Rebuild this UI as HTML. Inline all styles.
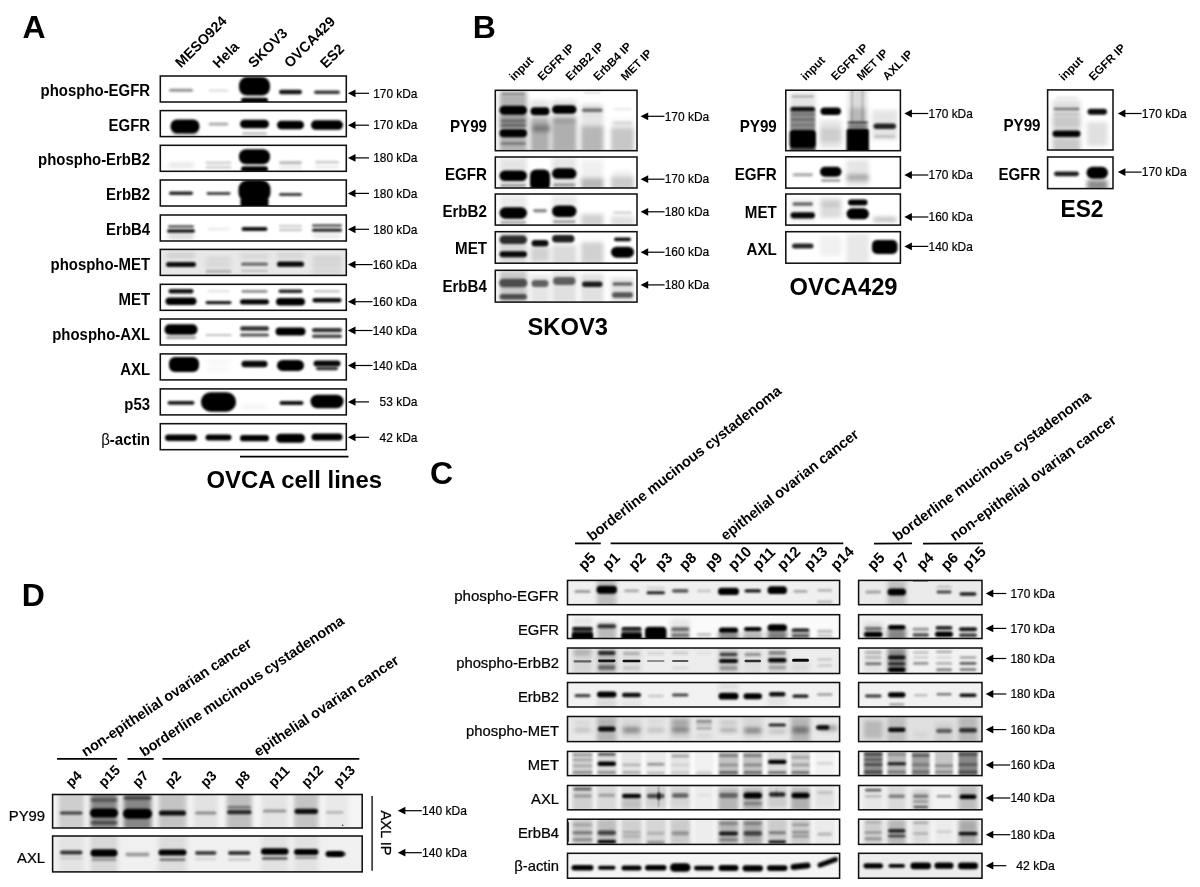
<!DOCTYPE html>
<html><head><meta charset="utf-8"><title>Figure</title>
<style>
html,body{margin:0;padding:0;background:#fff;}
body{width:1200px;height:887px;overflow:hidden;font-family:"Liberation Sans",sans-serif;}
svg{display:block;filter:grayscale(1);}
svg text{font-family:"Liberation Sans",sans-serif;}
</style></head><body>
<svg width="1200" height="887" viewBox="0 0 1200 887">
<defs>
<filter id="b0" x="-20%" y="-100%" width="140%" height="300%"><feGaussianBlur stdDeviation="0.6"/></filter>
<filter id="b1" x="-20%" y="-100%" width="140%" height="300%"><feGaussianBlur stdDeviation="1.25"/></filter>
<filter id="b2" x="-30%" y="-100%" width="160%" height="300%"><feGaussianBlur stdDeviation="2"/></filter>
<filter id="b3" x="-30%" y="-100%" width="160%" height="300%"><feGaussianBlur stdDeviation="3"/></filter>
<filter id="bx" x="-20%" y="-200%" width="140%" height="500%"><feGaussianBlur stdDeviation="1.6 0.7"/></filter>
<clipPath id="c1"><rect x="160.3" y="76" width="186" height="26"/></clipPath>
<clipPath id="c2"><rect x="160.3" y="110.6" width="186" height="26"/></clipPath>
<clipPath id="c3"><rect x="160.3" y="145.3" width="186" height="26"/></clipPath>
<clipPath id="c4"><rect x="160.3" y="180" width="186" height="26"/></clipPath>
<clipPath id="c5"><rect x="160.3" y="215" width="186" height="26"/></clipPath>
<clipPath id="c6"><rect x="160.3" y="249.4" width="186" height="26"/></clipPath>
<clipPath id="c7"><rect x="160.3" y="284.3" width="186" height="26"/></clipPath>
<clipPath id="c8"><rect x="160.3" y="319" width="186" height="26"/></clipPath>
<clipPath id="c9"><rect x="160.3" y="353.9" width="186" height="26"/></clipPath>
<clipPath id="c10"><rect x="160.3" y="388.9" width="186" height="26"/></clipPath>
<clipPath id="c11"><rect x="160.3" y="423.7" width="186" height="26"/></clipPath>
<clipPath id="c12"><rect x="495.3" y="90.3" width="141.7" height="60.4"/></clipPath>
<clipPath id="c13"><rect x="495.3" y="157" width="141.7" height="31"/></clipPath>
<clipPath id="c14"><rect x="495.3" y="194" width="141.7" height="31.1"/></clipPath>
<clipPath id="c15"><rect x="495.3" y="231.7" width="141.7" height="31.5"/></clipPath>
<clipPath id="c16"><rect x="495.3" y="270.3" width="141.7" height="31.8"/></clipPath>
<clipPath id="c17"><rect x="785.8" y="90.2" width="114.6" height="60.5"/></clipPath>
<clipPath id="c18"><rect x="785.8" y="156.8" width="114.6" height="31.3"/></clipPath>
<clipPath id="c19"><rect x="785.8" y="194" width="114.6" height="31.1"/></clipPath>
<clipPath id="c20"><rect x="785.8" y="231.7" width="114.6" height="31.5"/></clipPath>
<clipPath id="c21"><rect x="1047.6" y="89.9" width="65.4" height="60.1"/></clipPath>
<clipPath id="c22"><rect x="1047.6" y="157" width="65.4" height="31.6"/></clipPath>
<clipPath id="c23"><rect x="567.5" y="580.4" width="272.1" height="24.3"/></clipPath>
<clipPath id="c24"><rect x="567.5" y="614.7" width="272.1" height="23.8"/></clipPath>
<clipPath id="c25"><rect x="567.5" y="648" width="272.1" height="25.5"/></clipPath>
<clipPath id="c26"><rect x="567.5" y="682.5" width="272.1" height="24.5"/></clipPath>
<clipPath id="c27"><rect x="567.5" y="716.5" width="272.1" height="25.1"/></clipPath>
<clipPath id="c28"><rect x="567.5" y="751.4" width="272.1" height="24.2"/></clipPath>
<clipPath id="c29"><rect x="567.5" y="785.5" width="272.1" height="24.3"/></clipPath>
<clipPath id="c30"><rect x="567.5" y="819.2" width="272.1" height="25.2"/></clipPath>
<clipPath id="c31"><rect x="567.5" y="853.3" width="272.1" height="24.9"/></clipPath>
<clipPath id="c32"><rect x="858.6" y="580.4" width="123.4" height="24.3"/></clipPath>
<clipPath id="c33"><rect x="858.6" y="614.7" width="123.4" height="23.8"/></clipPath>
<clipPath id="c34"><rect x="858.6" y="648" width="123.4" height="25.5"/></clipPath>
<clipPath id="c35"><rect x="858.6" y="682.5" width="123.4" height="24.5"/></clipPath>
<clipPath id="c36"><rect x="858.6" y="716.5" width="123.4" height="25.1"/></clipPath>
<clipPath id="c37"><rect x="858.6" y="751.4" width="123.4" height="24.2"/></clipPath>
<clipPath id="c38"><rect x="858.6" y="785.5" width="123.4" height="24.3"/></clipPath>
<clipPath id="c39"><rect x="858.6" y="819.2" width="123.4" height="25.2"/></clipPath>
<clipPath id="c40"><rect x="858.6" y="853.3" width="123.4" height="24.9"/></clipPath>
<clipPath id="c41"><rect x="52.6" y="794.5" width="309.6" height="33.5"/></clipPath>
<clipPath id="c42"><rect x="52.6" y="836" width="309.6" height="35.9"/></clipPath>
</defs>
<rect x="0" y="0" width="1200" height="887" fill="#fff"/>
<text x="22.5" y="37.7" font-size="32" font-weight="bold">A</text>
<text x="181" y="68.5" font-size="14.3" font-weight="bold" transform="rotate(-45 181 68.5)">MESO924</text>
<text x="218.5" y="69" font-size="14.3" font-weight="bold" transform="rotate(-45 218.5 69)">Hela</text>
<text x="254" y="68.5" font-size="14.3" font-weight="bold" transform="rotate(-45 254 68.5)">SKOV3</text>
<text x="290" y="68.5" font-size="14.3" font-weight="bold" transform="rotate(-45 290 68.5)">OVCA429</text>
<text x="326" y="69" font-size="14.3" font-weight="bold" transform="rotate(-45 326 69)">ES2</text>
<rect x="160.3" y="76" width="186" height="26" fill="rgb(255,255,255)"/>
<g clip-path="url(#c1)">
<rect x="169" y="88.8" width="24" height="3" rx="1.5" fill="#000" fill-opacity="0.42" filter="url(#b1)"/>
<rect x="208.5" y="89" width="20" height="3" rx="1.5" fill="#000" fill-opacity="0.1" filter="url(#b1)"/>
<rect x="239" y="77.05" width="31" height="18.5" rx="8" fill="#000" fill-opacity="1" filter="url(#b1)"/>
<rect x="241" y="97.75" width="27" height="5.5" rx="2.75" fill="#000" fill-opacity="1" filter="url(#b1)"/>
<rect x="279" y="89.7" width="23" height="4.6" rx="2.3" fill="#000" fill-opacity="0.92" filter="url(#b1)"/>
<rect x="314" y="90.5" width="26" height="3.6" rx="1.8" fill="#000" fill-opacity="0.78" filter="url(#b1)"/>
</g>
<rect x="160.3" y="76" width="186" height="26" fill="none" stroke="#111" stroke-width="1.55"/>
<text x="150.1" y="95.8" font-size="15.8" font-weight="bold" text-anchor="end" textLength="109.48" lengthAdjust="spacingAndGlyphs">phospho-EGFR</text>
<path d="M347.9 93.3 L355.5 89.4 L355.5 97.2 Z" fill="#000"/>
<line x1="354.6" y1="93.3" x2="369" y2="93.3" stroke="#000" stroke-width="1.2"/>
<text x="373.2" y="97.5" font-size="13.1" stroke="#000" stroke-width="0.22" textLength="44.3" lengthAdjust="spacingAndGlyphs">170 kDa</text>
<rect x="160.3" y="110.6" width="186" height="26" fill="rgb(255,255,255)"/>
<g clip-path="url(#c2)">
<rect x="170.5" y="119.4" width="29" height="14" rx="6.5" fill="#000" fill-opacity="1" filter="url(#b1)"/>
<rect x="172" y="132.1" width="26" height="4" rx="2" fill="#000" fill-opacity="0.25" filter="url(#b2)"/>
<rect x="208.5" y="122.4" width="20" height="3.4" rx="1.7" fill="#000" fill-opacity="0.3" filter="url(#b1)"/>
<rect x="240" y="119.85" width="29" height="8.5" rx="4.25" fill="#000" fill-opacity="1" filter="url(#b1)"/>
<rect x="242" y="132.1" width="25" height="3" rx="1.5" fill="#000" fill-opacity="0.22" filter="url(#b1)"/>
<rect x="277" y="120.85" width="27" height="8.5" rx="4.25" fill="#000" fill-opacity="1" filter="url(#b1)"/>
<rect x="311" y="120.35" width="32" height="9.5" rx="4.75" fill="#000" fill-opacity="1" filter="url(#b1)"/>
</g>
<rect x="160.3" y="110.6" width="186" height="26" fill="none" stroke="#111" stroke-width="1.55"/>
<text x="150.1" y="130.57" font-size="15.8" font-weight="bold" text-anchor="end" textLength="41.48" lengthAdjust="spacingAndGlyphs">EGFR</text>
<path d="M347.9 125.2 L355.5 121.3 L355.5 129.1 Z" fill="#000"/>
<line x1="354.6" y1="125.2" x2="369" y2="125.2" stroke="#000" stroke-width="1.2"/>
<text x="373.2" y="129.4" font-size="13.1" stroke="#000" stroke-width="0.22" textLength="44.3" lengthAdjust="spacingAndGlyphs">170 kDa</text>
<rect x="160.3" y="145.3" width="186" height="26" fill="rgb(255,255,255)"/>
<g clip-path="url(#c3)">
<rect x="168" y="162.8" width="26" height="5" rx="2.5" fill="#000" fill-opacity="0.1" filter="url(#b2)"/>
<rect x="205.5" y="161.3" width="26" height="3" rx="1.5" fill="#000" fill-opacity="0.16" filter="url(#b1)"/>
<rect x="205.5" y="165.8" width="26" height="3" rx="1.5" fill="#000" fill-opacity="0.16" filter="url(#b1)"/>
<rect x="239" y="149.3" width="31" height="15" rx="7" fill="#000" fill-opacity="1" filter="url(#b1)"/>
<rect x="241" y="166.3" width="27" height="6" rx="3" fill="#000" fill-opacity="1" filter="url(#b1)"/>
<rect x="279" y="161.1" width="23" height="3.4" rx="1.7" fill="#000" fill-opacity="0.25" filter="url(#b1)"/>
<rect x="279" y="166.3" width="23" height="3" rx="1.5" fill="#000" fill-opacity="0.08" filter="url(#b1)"/>
<rect x="315" y="160.8" width="24" height="3" rx="1.5" fill="#000" fill-opacity="0.18" filter="url(#b1)"/>
<rect x="315" y="165.8" width="24" height="3" rx="1.5" fill="#000" fill-opacity="0.07" filter="url(#b1)"/>
</g>
<rect x="160.3" y="145.3" width="186" height="26" fill="none" stroke="#111" stroke-width="1.55"/>
<text x="150.1" y="165.44" font-size="15.8" font-weight="bold" text-anchor="end" textLength="111.98" lengthAdjust="spacingAndGlyphs">phospho-ErbB2</text>
<path d="M347.9 157.9 L355.5 154 L355.5 161.8 Z" fill="#000"/>
<line x1="354.6" y1="157.9" x2="369" y2="157.9" stroke="#000" stroke-width="1.2"/>
<text x="373.2" y="162.1" font-size="13.1" stroke="#000" stroke-width="0.22" textLength="44.3" lengthAdjust="spacingAndGlyphs">180 kDa</text>
<rect x="160.3" y="180" width="186" height="26" fill="rgb(255,255,255)"/>
<g clip-path="url(#c4)">
<rect x="169" y="191.6" width="24" height="3.4" rx="1.7" fill="#000" fill-opacity="0.85" filter="url(#b1)"/>
<rect x="206.5" y="192.1" width="24" height="2.8" rx="1.4" fill="#000" fill-opacity="0.72" filter="url(#b1)"/>
<rect x="238.5" y="180" width="32" height="22" rx="9" fill="#000" fill-opacity="1" filter="url(#b1)"/>
<rect x="240.5" y="198" width="28" height="10" rx="3" fill="#000" fill-opacity="1" filter="url(#b1)"/>
<rect x="279" y="193" width="23" height="3" rx="1.5" fill="#000" fill-opacity="0.75" filter="url(#b1)"/>
</g>
<rect x="160.3" y="180" width="186" height="26" fill="none" stroke="#111" stroke-width="1.55"/>
<text x="150.1" y="200.31" font-size="15.8" font-weight="bold" text-anchor="end" textLength="43.98" lengthAdjust="spacingAndGlyphs">ErbB2</text>
<path d="M347.9 193.4 L355.5 189.5 L355.5 197.3 Z" fill="#000"/>
<line x1="354.6" y1="193.4" x2="369" y2="193.4" stroke="#000" stroke-width="1.2"/>
<text x="373.2" y="197.6" font-size="13.1" stroke="#000" stroke-width="0.22" textLength="44.3" lengthAdjust="spacingAndGlyphs">180 kDa</text>
<rect x="160.3" y="215" width="186" height="26" fill="rgb(255,255,255)"/>
<g clip-path="url(#c5)">
<rect x="168" y="225.2" width="26" height="2.6" rx="1.3" fill="#000" fill-opacity="0.68" filter="url(#b1)"/>
<rect x="167" y="229.3" width="28" height="3.4" rx="1.7" fill="#000" fill-opacity="0.92" filter="url(#b1)"/>
<rect x="168" y="234.75" width="26" height="3.5" rx="1.75" fill="#000" fill-opacity="0.22" filter="url(#b2)"/>
<rect x="207.5" y="227.5" width="22" height="3" rx="1.5" fill="#000" fill-opacity="0.07" filter="url(#b1)"/>
<rect x="241.5" y="226.9" width="26" height="4.2" rx="2.1" fill="#000" fill-opacity="0.92" filter="url(#b1)"/>
<rect x="279" y="224.7" width="23" height="2.6" rx="1.3" fill="#000" fill-opacity="0.18" filter="url(#b1)"/>
<rect x="279" y="228.7" width="23" height="2.6" rx="1.3" fill="#000" fill-opacity="0.22" filter="url(#b1)"/>
<rect x="312" y="224.2" width="30" height="2.6" rx="1.3" fill="#000" fill-opacity="0.68" filter="url(#b1)"/>
<rect x="312" y="228.6" width="30" height="3.2" rx="1.6" fill="#000" fill-opacity="0.85" filter="url(#b1)"/>
<rect x="313" y="234.25" width="28" height="3.5" rx="1.75" fill="#000" fill-opacity="0.12" filter="url(#b2)"/>
</g>
<rect x="160.3" y="215" width="186" height="26" fill="none" stroke="#111" stroke-width="1.55"/>
<text x="150.1" y="235.48" font-size="15.8" font-weight="bold" text-anchor="end" textLength="43.98" lengthAdjust="spacingAndGlyphs">ErbB4</text>
<path d="M347.9 229.3 L355.5 225.4 L355.5 233.2 Z" fill="#000"/>
<line x1="354.6" y1="229.3" x2="369" y2="229.3" stroke="#000" stroke-width="1.2"/>
<text x="373.2" y="233.5" font-size="13.1" stroke="#000" stroke-width="0.22" textLength="44.3" lengthAdjust="spacingAndGlyphs">180 kDa</text>
<rect x="160.3" y="249.4" width="186" height="26" fill="rgb(232,232,232)"/>
<g clip-path="url(#c6)">
<rect x="166" y="262.1" width="30" height="5" rx="2.5" fill="#000" fill-opacity="0.95" filter="url(#b1)"/>
<rect x="167" y="252.9" width="28" height="5" rx="2.5" fill="#000" fill-opacity="0.12" filter="url(#b2)"/>
<rect x="205.5" y="257.4" width="26" height="3" rx="1.5" fill="#000" fill-opacity="0.12" filter="url(#b2)"/>
<rect x="205.5" y="263.4" width="26" height="3" rx="1.5" fill="#000" fill-opacity="0.12" filter="url(#b2)"/>
<rect x="205.5" y="269.7" width="26" height="3.4" rx="1.7" fill="#000" fill-opacity="0.22" filter="url(#b1)"/>
<rect x="241" y="262.6" width="27" height="3.2" rx="1.6" fill="#000" fill-opacity="0.55" filter="url(#b1)"/>
<rect x="241" y="269.7" width="27" height="2.4" rx="1.2" fill="#000" fill-opacity="0.18" filter="url(#b1)"/>
<rect x="240" y="254.4" width="29" height="4" rx="2" fill="#000" fill-opacity="0.1" filter="url(#b2)"/>
<rect x="277" y="261.6" width="27" height="5.2" rx="2.6" fill="#000" fill-opacity="0.97" filter="url(#b1)"/>
<rect x="277" y="252.9" width="27" height="5" rx="2.5" fill="#000" fill-opacity="0.1" filter="url(#b2)"/>
<rect x="312" y="256.4" width="30" height="4" rx="2" fill="#000" fill-opacity="0.14" filter="url(#b2)"/>
<rect x="312" y="263.4" width="30" height="3" rx="1.5" fill="#000" fill-opacity="0.16" filter="url(#b2)"/>
<rect x="312" y="269.9" width="30" height="3" rx="1.5" fill="#000" fill-opacity="0.14" filter="url(#b2)"/>
</g>
<rect x="160.3" y="249.4" width="186" height="26" fill="none" stroke="#111" stroke-width="1.55"/>
<text x="150.1" y="270.05" font-size="15.8" font-weight="bold" text-anchor="end" textLength="99.52" lengthAdjust="spacingAndGlyphs">phospho-MET</text>
<path d="M347.9 264.6 L355.5 260.7 L355.5 268.5 Z" fill="#000"/>
<line x1="354.6" y1="264.6" x2="372.5" y2="264.6" stroke="#000" stroke-width="1.2"/>
<text x="372.7" y="268.8" font-size="13.1" stroke="#000" stroke-width="0.22" textLength="44.3" lengthAdjust="spacingAndGlyphs">160 kDa</text>
<rect x="160.3" y="284.3" width="186" height="26" fill="rgb(255,255,255)"/>
<g clip-path="url(#c7)">
<rect x="168.5" y="289.1" width="25" height="4.4" rx="2.2" fill="#000" fill-opacity="0.92" filter="url(#b1)"/>
<rect x="165.5" y="297.55" width="31" height="7.5" rx="3.75" fill="#000" fill-opacity="1" filter="url(#b1)"/>
<rect x="207.5" y="290.05" width="22" height="2.5" rx="1.25" fill="#000" fill-opacity="0.1" filter="url(#b1)"/>
<rect x="205.5" y="301" width="26" height="3.2" rx="1.6" fill="#000" fill-opacity="0.9" filter="url(#b1)"/>
<rect x="241.5" y="289.9" width="26" height="2.8" rx="1.4" fill="#000" fill-opacity="0.45" filter="url(#b1)"/>
<rect x="240" y="299.2" width="29" height="5.2" rx="2.6" fill="#000" fill-opacity="0.98" filter="url(#b1)"/>
<rect x="278.5" y="289.6" width="24" height="3.4" rx="1.7" fill="#000" fill-opacity="0.85" filter="url(#b1)"/>
<rect x="276" y="298.05" width="29" height="7.5" rx="3.75" fill="#000" fill-opacity="1" filter="url(#b1)"/>
<rect x="314" y="290.1" width="26" height="2.4" rx="1.2" fill="#000" fill-opacity="0.22" filter="url(#b1)"/>
<rect x="312.5" y="298.1" width="29" height="4.4" rx="2.2" fill="#000" fill-opacity="0.95" filter="url(#b1)"/>
</g>
<rect x="160.3" y="284.3" width="186" height="26" fill="none" stroke="#111" stroke-width="1.55"/>
<text x="150.1" y="305.12" font-size="15.8" font-weight="bold" text-anchor="end" textLength="31.52" lengthAdjust="spacingAndGlyphs">MET</text>
<path d="M347.9 301.7 L355.5 297.8 L355.5 305.6 Z" fill="#000"/>
<line x1="354.6" y1="301.7" x2="372.5" y2="301.7" stroke="#000" stroke-width="1.2"/>
<text x="372.7" y="305.9" font-size="13.1" stroke="#000" stroke-width="0.22" textLength="44.3" lengthAdjust="spacingAndGlyphs">160 kDa</text>
<rect x="160.3" y="319" width="186" height="26" fill="rgb(255,255,255)"/>
<g clip-path="url(#c8)">
<rect x="164.5" y="324.25" width="33" height="10.5" rx="5" fill="#000" fill-opacity="1" filter="url(#b1)"/>
<rect x="166" y="336" width="30" height="3" rx="1.5" fill="#000" fill-opacity="0.35" filter="url(#b1)"/>
<rect x="205.5" y="334.3" width="26" height="1.8" rx="0.9" fill="#000" fill-opacity="0.28" filter="url(#b1)"/>
<rect x="240" y="326.25" width="29" height="4.5" rx="2.25" fill="#000" fill-opacity="0.8" filter="url(#b1)"/>
<rect x="240" y="333.5" width="29" height="3" rx="1.5" fill="#000" fill-opacity="0.68" filter="url(#b1)"/>
<rect x="275.5" y="327.5" width="30" height="8" rx="4" fill="#000" fill-opacity="1" filter="url(#b1)"/>
<rect x="312" y="328.1" width="30" height="4.2" rx="2.1" fill="#000" fill-opacity="0.8" filter="url(#b1)"/>
<rect x="312" y="334.5" width="30" height="3.4" rx="1.7" fill="#000" fill-opacity="0.72" filter="url(#b1)"/>
</g>
<rect x="160.3" y="319" width="186" height="26" fill="none" stroke="#111" stroke-width="1.55"/>
<text x="150.1" y="339.99" font-size="15.8" font-weight="bold" text-anchor="end" textLength="97.86" lengthAdjust="spacingAndGlyphs">phospho-AXL</text>
<path d="M347.9 330.5 L355.5 326.6 L355.5 334.4 Z" fill="#000"/>
<line x1="354.6" y1="330.5" x2="372.5" y2="330.5" stroke="#000" stroke-width="1.2"/>
<text x="372.7" y="334.7" font-size="13.1" stroke="#000" stroke-width="0.22" textLength="44.3" lengthAdjust="spacingAndGlyphs">140 kDa</text>
<rect x="160.3" y="353.9" width="186" height="26" fill="rgb(255,255,255)"/>
<g clip-path="url(#c9)">
<rect x="169" y="356.9" width="30" height="15" rx="6" fill="#000" fill-opacity="1" filter="url(#b1)"/>
<rect x="207.5" y="360.4" width="22" height="3" rx="1.5" fill="#000" fill-opacity="0.06" filter="url(#b2)"/>
<rect x="207.5" y="367.4" width="22" height="3" rx="1.5" fill="#000" fill-opacity="0.05" filter="url(#b2)"/>
<rect x="241.5" y="360.65" width="26" height="6.5" rx="3.2" fill="#000" fill-opacity="0.97" filter="url(#b1)"/>
<rect x="277" y="359.9" width="27" height="11" rx="5.5" fill="#000" fill-opacity="1" filter="url(#b1)"/>
<rect x="313.5" y="360.4" width="27" height="6" rx="3" fill="#000" fill-opacity="0.97" filter="url(#b1)"/>
<rect x="316" y="366.65" width="22" height="3.5" rx="1.75" fill="#000" fill-opacity="0.8" filter="url(#b1)"/>
</g>
<rect x="160.3" y="353.9" width="186" height="26" fill="none" stroke="#111" stroke-width="1.55"/>
<text x="150.1" y="375.06" font-size="15.8" font-weight="bold" text-anchor="end" textLength="29.86" lengthAdjust="spacingAndGlyphs">AXL</text>
<path d="M347.9 365.5 L355.5 361.6 L355.5 369.4 Z" fill="#000"/>
<line x1="354.6" y1="365.5" x2="372.5" y2="365.5" stroke="#000" stroke-width="1.2"/>
<text x="372.7" y="369.7" font-size="13.1" stroke="#000" stroke-width="0.22" textLength="44.3" lengthAdjust="spacingAndGlyphs">140 kDa</text>
<rect x="160.3" y="388.9" width="186" height="26" fill="rgb(255,255,255)"/>
<g clip-path="url(#c10)">
<rect x="167.5" y="401.1" width="27" height="3.6" rx="1.8" fill="#000" fill-opacity="0.9" filter="url(#b1)"/>
<rect x="201" y="392.15" width="35" height="19.5" rx="9.5" fill="#000" fill-opacity="1" filter="url(#b1)"/>
<rect x="242" y="404.9" width="25" height="4" rx="2" fill="#000" fill-opacity="0.05" filter="url(#b2)"/>
<rect x="279.5" y="401.1" width="24" height="4" rx="2" fill="#000" fill-opacity="0.92" filter="url(#b1)"/>
<rect x="310.5" y="394.65" width="33" height="13.5" rx="6.7" fill="#000" fill-opacity="1" filter="url(#b1)"/>
</g>
<rect x="160.3" y="388.9" width="186" height="26" fill="none" stroke="#111" stroke-width="1.55"/>
<text x="150.1" y="410.23" font-size="15.8" font-weight="bold" text-anchor="end" textLength="25.73" lengthAdjust="spacingAndGlyphs">p53</text>
<path d="M347.9 401.9 L355.5 398 L355.5 405.8 Z" fill="#000"/>
<line x1="354.6" y1="401.9" x2="369" y2="401.9" stroke="#000" stroke-width="1.2"/>
<text x="379.6" y="406.1" font-size="13.1" stroke="#000" stroke-width="0.22" textLength="37.8" lengthAdjust="spacingAndGlyphs">53 kDa</text>
<rect x="160.3" y="423.7" width="186" height="26" fill="rgb(255,255,255)"/>
<g clip-path="url(#c11)">
<rect x="165" y="434.45" width="32" height="6.5" rx="3.25" fill="#000" fill-opacity="1" filter="url(#b1)"/>
<rect x="205.5" y="434.5" width="26" height="6" rx="3" fill="#000" fill-opacity="1" filter="url(#b1)"/>
<rect x="240" y="435.1" width="29" height="6.2" rx="3.1" fill="#000" fill-opacity="1" filter="url(#b1)"/>
<rect x="276" y="433.7" width="29" height="9" rx="4.5" fill="#000" fill-opacity="1" filter="url(#b1)"/>
<rect x="311.5" y="433.5" width="31" height="7" rx="3.5" fill="#000" fill-opacity="1" filter="url(#b1)"/>
</g>
<rect x="160.3" y="423.7" width="186" height="26" fill="none" stroke="#111" stroke-width="1.55"/>
<text x="150.1" y="445.2" font-size="15.8" font-weight="bold" text-anchor="end" textLength="48.94" lengthAdjust="spacingAndGlyphs"><tspan font-weight="normal">&#946;</tspan>-actin</text>
<path d="M347.9 437.3 L355.5 433.4 L355.5 441.2 Z" fill="#000"/>
<line x1="354.6" y1="437.3" x2="369" y2="437.3" stroke="#000" stroke-width="1.2"/>
<text x="379.6" y="441.5" font-size="13.1" stroke="#000" stroke-width="0.22" textLength="37.8" lengthAdjust="spacingAndGlyphs">42 kDa</text>
<line x1="240" y1="456.6" x2="348.5" y2="456.6" stroke="#000" stroke-width="1.8"/>
<text x="206.5" y="487.8" font-size="23.5" font-weight="bold" textLength="175.5" lengthAdjust="spacingAndGlyphs">OVCA cell lines</text>
<text x="472.7" y="37.7" font-size="32" font-weight="bold">B</text>
<rect x="495.3" y="90.3" width="141.7" height="60.4" fill="rgb(255,255,255)"/>
<g clip-path="url(#c12)">
<rect x="499.5" y="92" width="27.5" height="60" fill="#000" fill-opacity="0.3" filter="url(#b2)"/>
<rect x="530.5" y="100" width="19" height="52" fill="#000" fill-opacity="0.1" filter="url(#b2)"/>
<rect x="552" y="100" width="24.5" height="52" fill="#000" fill-opacity="0.12" filter="url(#b2)"/>
<rect x="581" y="112" width="22.5" height="40" fill="#000" fill-opacity="0.1" filter="url(#b2)"/>
<rect x="611" y="120" width="23" height="32" fill="#000" fill-opacity="0.07" filter="url(#b2)"/>
<rect x="501.5" y="92.8" width="23.5" height="1.6" rx="0.8" fill="#000" fill-opacity="0.35" filter="url(#b1)"/>
<rect x="499.5" y="105.7" width="27.5" height="9" rx="4.5" fill="#000" fill-opacity="1" filter="url(#b1)"/>
<rect x="500.5" y="119.5" width="25.5" height="3" rx="1.5" fill="#000" fill-opacity="0.3" filter="url(#b1)"/>
<rect x="500.5" y="124" width="25.5" height="3" rx="1.5" fill="#000" fill-opacity="0.35" filter="url(#b1)"/>
<rect x="499.5" y="116" width="27.5" height="12" fill="#000" fill-opacity="0.15" filter="url(#b2)"/>
<rect x="499.5" y="129.2" width="27.5" height="8" rx="4" fill="#000" fill-opacity="1" filter="url(#b1)"/>
<rect x="500.5" y="142" width="25.5" height="3" rx="1.5" fill="#000" fill-opacity="0.3" filter="url(#b1)"/>
<rect x="530.5" y="107.3" width="19" height="8" rx="4" fill="#000" fill-opacity="1" filter="url(#b1)"/>
<rect x="530.5" y="118" width="19" height="34" fill="#000" fill-opacity="0.24" filter="url(#b2)"/>
<rect x="532" y="125" width="19" height="7" rx="3.5" fill="#000" fill-opacity="0.3" filter="url(#b2)"/>
<rect x="552" y="105.2" width="24.5" height="8.6" rx="4.3" fill="#000" fill-opacity="1" filter="url(#b1)"/>
<rect x="552" y="118" width="24.5" height="34" fill="#000" fill-opacity="0.22" filter="url(#b2)"/>
<rect x="553" y="119" width="22.5" height="3" rx="1.5" fill="#000" fill-opacity="0.2" filter="url(#b2)"/>
<rect x="584" y="92.2" width="16.5" height="1.2" rx="0.6" fill="#000" fill-opacity="0.18" filter="url(#b1)"/>
<rect x="582" y="108.6" width="20.5" height="3.4" rx="1.7" fill="#000" fill-opacity="0.5" filter="url(#b1)"/>
<rect x="581" y="126" width="22.5" height="26" fill="#000" fill-opacity="0.2" filter="url(#b2)"/>
<rect x="581" y="104.5" width="22.5" height="8" rx="4" fill="#000" fill-opacity="0.15" filter="url(#b2)"/>
<rect x="613" y="107.5" width="19" height="3" rx="1.5" fill="#000" fill-opacity="0.07" filter="url(#b1)"/>
<rect x="613" y="121.8" width="19" height="2.4" rx="1.2" fill="#000" fill-opacity="0.1" filter="url(#b1)"/>
<rect x="611" y="128" width="23" height="24" fill="#000" fill-opacity="0.16" filter="url(#b2)"/>
</g>
<rect x="495.3" y="90.3" width="141.7" height="60.4" fill="none" stroke="#111" stroke-width="1.55"/>
<text x="487" y="132" font-size="16.2" font-weight="bold" text-anchor="end" textLength="37.05" lengthAdjust="spacingAndGlyphs">PY99</text>
<path d="M640.6 116.3 L648.2 112.4 L648.2 120.2 Z" fill="#000"/>
<line x1="647.3" y1="116.3" x2="664.5" y2="116.3" stroke="#000" stroke-width="1.2"/>
<text x="664.7" y="120.5" font-size="13.1" stroke="#000" stroke-width="0.22" textLength="44.6" lengthAdjust="spacingAndGlyphs">170 kDa</text>
<rect x="495.3" y="157" width="141.7" height="31" fill="rgb(255,255,255)"/>
<g clip-path="url(#c13)">
<rect x="499.5" y="158" width="27.5" height="32" fill="#000" fill-opacity="0.1" filter="url(#b2)"/>
<rect x="499.5" y="170.45" width="27.5" height="10.5" rx="5.25" fill="#000" fill-opacity="1" filter="url(#b1)"/>
<rect x="500.5" y="184.2" width="25.5" height="2.6" rx="1.3" fill="#000" fill-opacity="0.35" filter="url(#b1)"/>
<rect x="530" y="169.5" width="20" height="21" rx="6" fill="#000" fill-opacity="1" filter="url(#b1)"/>
<rect x="552" y="158" width="24.5" height="32" fill="#000" fill-opacity="0.1" filter="url(#b2)"/>
<rect x="552" y="168.35" width="24.5" height="10.5" rx="5.25" fill="#000" fill-opacity="1" filter="url(#b1)"/>
<rect x="553" y="183.5" width="22.5" height="3" rx="1.5" fill="#000" fill-opacity="0.35" filter="url(#b1)"/>
<rect x="581" y="178" width="22.5" height="12" fill="#000" fill-opacity="0.28" filter="url(#b2)"/>
<rect x="581" y="160" width="22.5" height="18" fill="#000" fill-opacity="0.06" filter="url(#b2)"/>
<rect x="613" y="171" width="19" height="3" rx="1.5" fill="#000" fill-opacity="0.08" filter="url(#b2)"/>
<rect x="611" y="176" width="23" height="14" fill="#000" fill-opacity="0.2" filter="url(#b2)"/>
</g>
<rect x="495.3" y="157" width="141.7" height="31" fill="none" stroke="#111" stroke-width="1.55"/>
<text x="487" y="180.3" font-size="16.2" font-weight="bold" text-anchor="end" textLength="42.08" lengthAdjust="spacingAndGlyphs">EGFR</text>
<path d="M640.6 179.2 L648.2 175.3 L648.2 183.1 Z" fill="#000"/>
<line x1="647.3" y1="179.2" x2="664.5" y2="179.2" stroke="#000" stroke-width="1.2"/>
<text x="664.7" y="183.4" font-size="13.1" stroke="#000" stroke-width="0.22" textLength="44.6" lengthAdjust="spacingAndGlyphs">170 kDa</text>
<rect x="495.3" y="194" width="141.7" height="31.1" fill="rgb(255,255,255)"/>
<g clip-path="url(#c14)">
<rect x="499.5" y="195" width="27.5" height="31" fill="#000" fill-opacity="0.08" filter="url(#b2)"/>
<rect x="499.5" y="207.25" width="27.5" height="11.5" rx="5.75" fill="#000" fill-opacity="1" filter="url(#b1)"/>
<rect x="500.5" y="221.3" width="25.5" height="2.4" rx="1.2" fill="#000" fill-opacity="0.3" filter="url(#b1)"/>
<rect x="533" y="209" width="14" height="3.4" rx="1.7" fill="#000" fill-opacity="0.45" filter="url(#b1)"/>
<rect x="552" y="195" width="24.5" height="31" fill="#000" fill-opacity="0.08" filter="url(#b2)"/>
<rect x="552" y="205.45" width="24.5" height="11.5" rx="5.75" fill="#000" fill-opacity="1" filter="url(#b1)"/>
<rect x="553" y="220.5" width="22.5" height="2.6" rx="1.3" fill="#000" fill-opacity="0.35" filter="url(#b1)"/>
<rect x="581" y="214" width="22.5" height="12" fill="#000" fill-opacity="0.18" filter="url(#b2)"/>
<rect x="613" y="211.3" width="19" height="2.4" rx="1.2" fill="#000" fill-opacity="0.16" filter="url(#b1)"/>
<rect x="611" y="216" width="23" height="10" fill="#000" fill-opacity="0.12" filter="url(#b2)"/>
</g>
<rect x="495.3" y="194" width="141.7" height="31.1" fill="none" stroke="#111" stroke-width="1.55"/>
<text x="487" y="217" font-size="16.2" font-weight="bold" text-anchor="end" textLength="44.61" lengthAdjust="spacingAndGlyphs">ErbB2</text>
<path d="M640.6 211.8 L648.2 207.9 L648.2 215.7 Z" fill="#000"/>
<line x1="647.3" y1="211.8" x2="664.5" y2="211.8" stroke="#000" stroke-width="1.2"/>
<text x="664.7" y="216" font-size="13.1" stroke="#000" stroke-width="0.22" textLength="44.6" lengthAdjust="spacingAndGlyphs">180 kDa</text>
<rect x="495.3" y="231.7" width="141.7" height="31.5" fill="rgb(255,255,255)"/>
<g clip-path="url(#c15)">
<rect x="499.5" y="232" width="27.5" height="32" fill="#000" fill-opacity="0.15" filter="url(#b2)"/>
<rect x="499.5" y="235.55" width="27.5" height="8.5" rx="4.25" fill="#000" fill-opacity="0.8" filter="url(#b1)"/>
<rect x="499.5" y="251.3" width="27.5" height="6" rx="3" fill="#000" fill-opacity="0.97" filter="url(#b1)"/>
<rect x="531.5" y="240.05" width="17" height="6.5" rx="3.25" fill="#000" fill-opacity="0.95" filter="url(#b1)"/>
<rect x="530.5" y="247" width="19" height="15" fill="#000" fill-opacity="0.18" filter="url(#b2)"/>
<rect x="552" y="234.95" width="22.5" height="7.5" rx="3.75" fill="#000" fill-opacity="0.88" filter="url(#b1)"/>
<rect x="552" y="245" width="24.5" height="19" fill="#000" fill-opacity="0.14" filter="url(#b2)"/>
<rect x="581" y="242" width="22.5" height="22" fill="#000" fill-opacity="0.18" filter="url(#b2)"/>
<rect x="614" y="237.6" width="17" height="3.6" rx="1.8" fill="#000" fill-opacity="0.95" filter="url(#b1)"/>
<rect x="611" y="246.7" width="23" height="11" rx="5.5" fill="#000" fill-opacity="1" filter="url(#b1)"/>
</g>
<rect x="495.3" y="231.7" width="141.7" height="31.5" fill="none" stroke="#111" stroke-width="1.55"/>
<text x="487" y="254" font-size="16.2" font-weight="bold" text-anchor="end" textLength="31.97" lengthAdjust="spacingAndGlyphs">MET</text>
<path d="M640.6 252.2 L648.2 248.3 L648.2 256.1 Z" fill="#000"/>
<line x1="647.3" y1="252.2" x2="664.5" y2="252.2" stroke="#000" stroke-width="1.2"/>
<text x="664.7" y="256.4" font-size="13.1" stroke="#000" stroke-width="0.22" textLength="44.6" lengthAdjust="spacingAndGlyphs">160 kDa</text>
<rect x="495.3" y="270.3" width="141.7" height="31.8" fill="rgb(255,255,255)"/>
<g clip-path="url(#c16)">
<rect x="499.5" y="271" width="27.5" height="32" fill="#000" fill-opacity="0.22" filter="url(#b2)"/>
<rect x="499" y="278.75" width="28.5" height="8.5" rx="4.25" fill="#000" fill-opacity="0.62" filter="url(#b1)"/>
<rect x="499.5" y="293.95" width="27.5" height="5.5" rx="2.75" fill="#000" fill-opacity="0.62" filter="url(#b1)"/>
<rect x="530.5" y="275" width="19" height="28" fill="#000" fill-opacity="0.1" filter="url(#b2)"/>
<rect x="531.5" y="280" width="17" height="7" rx="3.5" fill="#000" fill-opacity="0.58" filter="url(#b1)"/>
<rect x="552" y="272" width="24.5" height="31" fill="#000" fill-opacity="0.12" filter="url(#b2)"/>
<rect x="553" y="277" width="22.5" height="8" rx="4" fill="#000" fill-opacity="0.58" filter="url(#b1)"/>
<rect x="581" y="274" width="22.5" height="29" fill="#000" fill-opacity="0.12" filter="url(#b2)"/>
<rect x="582" y="281.45" width="20.5" height="5.5" rx="2.75" fill="#000" fill-opacity="0.88" filter="url(#b1)"/>
<rect x="611" y="278" width="23" height="25" fill="#000" fill-opacity="0.12" filter="url(#b2)"/>
<rect x="612.5" y="282.4" width="20" height="3.2" rx="1.6" fill="#000" fill-opacity="0.62" filter="url(#b1)"/>
<rect x="612" y="292.25" width="21" height="5.5" rx="2.75" fill="#000" fill-opacity="0.62" filter="url(#b1)"/>
</g>
<rect x="495.3" y="270.3" width="141.7" height="31.8" fill="none" stroke="#111" stroke-width="1.55"/>
<text x="487" y="292.2" font-size="16.2" font-weight="bold" text-anchor="end" textLength="44.61" lengthAdjust="spacingAndGlyphs">ErbB4</text>
<path d="M640.6 284.9 L648.2 281 L648.2 288.8 Z" fill="#000"/>
<line x1="647.3" y1="284.9" x2="664.5" y2="284.9" stroke="#000" stroke-width="1.2"/>
<text x="664.7" y="289.1" font-size="13.1" stroke="#000" stroke-width="0.22" textLength="44.6" lengthAdjust="spacingAndGlyphs">180 kDa</text>
<text x="514" y="81.3" font-size="11.6" font-weight="bold" transform="rotate(-45 514 81.3)">input</text>
<text x="542.3" y="81.3" font-size="11.6" font-weight="bold" transform="rotate(-45 542.3 81.3)">EGFR IP</text>
<text x="570.2" y="81.3" font-size="11.6" font-weight="bold" transform="rotate(-45 570.2 81.3)">ErbB2 IP</text>
<text x="598" y="81.3" font-size="11.6" font-weight="bold" transform="rotate(-45 598 81.3)">ErbB4 IP</text>
<text x="625.4" y="81.3" font-size="11.6" font-weight="bold" transform="rotate(-45 625.4 81.3)">MET IP</text>
<text x="527.5" y="334.8" font-size="23.7" font-weight="bold" textLength="80.5" lengthAdjust="spacingAndGlyphs">SKOV3</text>
<rect x="785.8" y="90.2" width="114.6" height="60.5" fill="rgb(255,255,255)"/>
<g clip-path="url(#c17)">
<rect x="790" y="92" width="25.5" height="16" fill="#000" fill-opacity="0.1" filter="url(#b2)"/>
<rect x="790" y="109" width="25.5" height="21" fill="#000" fill-opacity="0.42" filter="url(#b1)"/>
<rect x="791.5" y="95.7" width="22.5" height="1.6" rx="0.8" fill="#000" fill-opacity="0.35" filter="url(#b1)"/>
<rect x="790.5" y="106.8" width="24.5" height="4.4" rx="2.2" fill="#000" fill-opacity="0.92" filter="url(#b1)"/>
<rect x="791" y="113.2" width="23.5" height="2.6" rx="1.3" fill="#000" fill-opacity="0.25" filter="url(#b1)"/>
<rect x="791" y="118" width="23.5" height="3" rx="1.5" fill="#000" fill-opacity="0.25" filter="url(#b1)"/>
<rect x="791" y="123.5" width="23.5" height="3" rx="1.5" fill="#000" fill-opacity="0.2" filter="url(#b1)"/>
<rect x="789.5" y="129.5" width="26.5" height="19" rx="4" fill="#000" fill-opacity="1" filter="url(#b1)"/>
<rect x="790" y="147" width="25.5" height="5" fill="#000" fill-opacity="0.6" filter="url(#b1)"/>
<rect x="820.5" y="107.4" width="20.5" height="7.6" rx="3.8" fill="#000" fill-opacity="1" filter="url(#b1)"/>
<rect x="820" y="120" width="21.5" height="28" fill="#000" fill-opacity="0.1" filter="url(#b2)"/>
<rect x="820" y="128" width="21.5" height="14" fill="#000" fill-opacity="0.1" filter="url(#b2)"/>
<rect x="848.5" y="88" width="18.5" height="42" fill="#000" fill-opacity="0.14" filter="url(#b2)"/>
<rect x="849.5" y="108" width="16.5" height="22" fill="#000" fill-opacity="0.16" filter="url(#b2)"/>
<rect x="850.9" y="87" width="2.2" height="36" rx="0.5" fill="#000" fill-opacity="0.16" filter="url(#b1)"/>
<rect x="861.4" y="87" width="2.2" height="36" rx="0.5" fill="#000" fill-opacity="0.16" filter="url(#b1)"/>
<rect x="847.5" y="121.5" width="20.5" height="2.2" rx="1.1" fill="#000" fill-opacity="0.7" filter="url(#b1)"/>
<rect x="847.5" y="125.2" width="20.5" height="2" rx="1" fill="#000" fill-opacity="0.5" filter="url(#b1)"/>
<rect x="846.5" y="128.5" width="22.5" height="27" rx="2.5" fill="#000" fill-opacity="1" filter="url(#b1)"/>
<rect x="872" y="110" width="25.5" height="30" fill="#000" fill-opacity="0.1" filter="url(#b2)"/>
<rect x="873.5" y="123.6" width="22.5" height="5.4" rx="2.7" fill="#000" fill-opacity="0.85" filter="url(#b1)"/>
<rect x="874" y="135" width="21.5" height="3" rx="1.5" fill="#000" fill-opacity="0.15" filter="url(#b1)"/>
</g>
<rect x="785.8" y="90.2" width="114.6" height="60.5" fill="none" stroke="#111" stroke-width="1.55"/>
<text x="776.8" y="132" font-size="16.2" font-weight="bold" text-anchor="end" textLength="37.05" lengthAdjust="spacingAndGlyphs">PY99</text>
<path d="M904.3 113.5 L911.9 109.6 L911.9 117.4 Z" fill="#000"/>
<line x1="911" y1="113.5" x2="928.3" y2="113.5" stroke="#000" stroke-width="1.2"/>
<text x="928.6" y="117.7" font-size="13.1" stroke="#000" stroke-width="0.22" textLength="44.2" lengthAdjust="spacingAndGlyphs">170 kDa</text>
<rect x="785.8" y="156.8" width="114.6" height="31.3" fill="rgb(255,255,255)"/>
<g clip-path="url(#c18)">
<rect x="792.5" y="173.1" width="20.5" height="3.4" rx="1.7" fill="#000" fill-opacity="0.3" filter="url(#b1)"/>
<rect x="820" y="166.8" width="21.5" height="10" rx="5" fill="#000" fill-opacity="1" filter="url(#b1)"/>
<rect x="821" y="179" width="19.5" height="3" rx="1.5" fill="#000" fill-opacity="0.35" filter="url(#b1)"/>
<rect x="846.5" y="160" width="22.5" height="26" fill="#000" fill-opacity="0.1" filter="url(#b2)"/>
<rect x="846.5" y="174.5" width="22.5" height="6" rx="3" fill="#000" fill-opacity="0.28" filter="url(#b2)"/>
</g>
<rect x="785.8" y="156.8" width="114.6" height="31.3" fill="none" stroke="#111" stroke-width="1.55"/>
<text x="776.8" y="180.3" font-size="16.2" font-weight="bold" text-anchor="end" textLength="42.08" lengthAdjust="spacingAndGlyphs">EGFR</text>
<path d="M904.3 175 L911.9 171.1 L911.9 178.9 Z" fill="#000"/>
<line x1="911" y1="175" x2="928.3" y2="175" stroke="#000" stroke-width="1.2"/>
<text x="928.6" y="179.2" font-size="13.1" stroke="#000" stroke-width="0.22" textLength="44.2" lengthAdjust="spacingAndGlyphs">170 kDa</text>
<rect x="785.8" y="194" width="114.6" height="31.1" fill="rgb(255,255,255)"/>
<g clip-path="url(#c19)">
<rect x="792.5" y="202.3" width="20.5" height="3.4" rx="1.7" fill="#000" fill-opacity="0.58" filter="url(#b1)"/>
<rect x="790.5" y="212.2" width="24.5" height="6.2" rx="3.1" fill="#000" fill-opacity="0.97" filter="url(#b1)"/>
<rect x="790" y="198" width="25.5" height="24" fill="#000" fill-opacity="0.05" filter="url(#b2)"/>
<rect x="820" y="198" width="21.5" height="20" fill="#000" fill-opacity="0.14" filter="url(#b2)"/>
<rect x="821.5" y="203" width="18.5" height="3" rx="1.5" fill="#000" fill-opacity="0.14" filter="url(#b2)"/>
<rect x="848" y="199.6" width="19.5" height="6" rx="3" fill="#000" fill-opacity="1" filter="url(#b1)"/>
<rect x="846.5" y="208.3" width="22.5" height="11" rx="5.5" fill="#000" fill-opacity="1" filter="url(#b1)"/>
<rect x="873" y="217" width="23.5" height="5" rx="2.5" fill="#000" fill-opacity="0.25" filter="url(#b2)"/>
</g>
<rect x="785.8" y="194" width="114.6" height="31.1" fill="none" stroke="#111" stroke-width="1.55"/>
<text x="776.8" y="217.5" font-size="16.2" font-weight="bold" text-anchor="end" textLength="31.97" lengthAdjust="spacingAndGlyphs">MET</text>
<path d="M904.3 217 L911.9 213.1 L911.9 220.9 Z" fill="#000"/>
<line x1="911" y1="217" x2="928.3" y2="217" stroke="#000" stroke-width="1.2"/>
<text x="928.6" y="221.2" font-size="13.1" stroke="#000" stroke-width="0.22" textLength="44.2" lengthAdjust="spacingAndGlyphs">160 kDa</text>
<rect x="785.8" y="231.7" width="114.6" height="31.5" fill="rgb(255,255,255)"/>
<g clip-path="url(#c20)">
<rect x="792" y="243.5" width="21.5" height="5" rx="2.5" fill="#000" fill-opacity="0.85" filter="url(#b1)"/>
<rect x="820" y="236" width="21.5" height="20" fill="#000" fill-opacity="0.06" filter="url(#b2)"/>
<rect x="846.5" y="234" width="22.5" height="30" fill="#000" fill-opacity="0.09" filter="url(#b2)"/>
<rect x="872" y="240" width="25.5" height="14" rx="5" fill="#000" fill-opacity="1" filter="url(#b1)"/>
</g>
<rect x="785.8" y="231.7" width="114.6" height="31.5" fill="none" stroke="#111" stroke-width="1.55"/>
<text x="776.8" y="255" font-size="16.2" font-weight="bold" text-anchor="end" textLength="30.29" lengthAdjust="spacingAndGlyphs">AXL</text>
<path d="M904.3 246.4 L911.9 242.5 L911.9 250.3 Z" fill="#000"/>
<line x1="911" y1="246.4" x2="928.3" y2="246.4" stroke="#000" stroke-width="1.2"/>
<text x="928.6" y="250.6" font-size="13.1" stroke="#000" stroke-width="0.22" textLength="44.2" lengthAdjust="spacingAndGlyphs">140 kDa</text>
<text x="805.8" y="81" font-size="11.6" font-weight="bold" transform="rotate(-45 805.8 81)">input</text>
<text x="835.8" y="81" font-size="11.6" font-weight="bold" transform="rotate(-45 835.8 81)">EGFR IP</text>
<text x="861.5" y="81" font-size="11.6" font-weight="bold" transform="rotate(-45 861.5 81)">MET IP</text>
<text x="887.3" y="81" font-size="11.6" font-weight="bold" transform="rotate(-45 887.3 81)">AXL IP</text>
<text x="789.5" y="294.7" font-size="23.7" font-weight="bold" textLength="108" lengthAdjust="spacingAndGlyphs">OVCA429</text>
<rect x="1047.6" y="89.9" width="65.4" height="60.1" fill="rgb(255,255,255)"/>
<g clip-path="url(#c21)">
<rect x="1052.5" y="100" width="28" height="52" fill="#000" fill-opacity="0.12" filter="url(#b2)"/>
<rect x="1055.5" y="96.7" width="22" height="1.6" rx="0.8" fill="#000" fill-opacity="0.1" filter="url(#b1)"/>
<rect x="1053.5" y="107.8" width="26" height="2.4" rx="1.2" fill="#000" fill-opacity="0.5" filter="url(#b1)"/>
<rect x="1053.5" y="112.8" width="26" height="2.4" rx="1.2" fill="#000" fill-opacity="0.12" filter="url(#b1)"/>
<rect x="1052.5" y="116" width="28" height="12" fill="#000" fill-opacity="0.1" filter="url(#b2)"/>
<rect x="1052.5" y="130.5" width="28" height="6.6" rx="3.3" fill="#000" fill-opacity="0.98" filter="url(#b1)"/>
<rect x="1052.5" y="138" width="28" height="14" fill="#000" fill-opacity="0.1" filter="url(#b2)"/>
<rect x="1087.5" y="108.7" width="19.5" height="6" rx="3" fill="#000" fill-opacity="0.95" filter="url(#b1)"/>
<rect x="1087" y="122" width="20.5" height="24" fill="#000" fill-opacity="0.12" filter="url(#b2)"/>
</g>
<rect x="1047.6" y="89.9" width="65.4" height="60.1" fill="none" stroke="#111" stroke-width="1.55"/>
<text x="1040.5" y="130.8" font-size="16.2" font-weight="bold" text-anchor="end" textLength="37.05" lengthAdjust="spacingAndGlyphs">PY99</text>
<path d="M1117.8 113.5 L1125.4 109.6 L1125.4 117.4 Z" fill="#000"/>
<line x1="1124.5" y1="113.5" x2="1141.6" y2="113.5" stroke="#000" stroke-width="1.2"/>
<text x="1141.8" y="117.7" font-size="13.1" stroke="#000" stroke-width="0.22" textLength="44.8" lengthAdjust="spacingAndGlyphs">170 kDa</text>
<rect x="1047.6" y="157" width="65.4" height="31.6" fill="rgb(255,255,255)"/>
<g clip-path="url(#c22)">
<rect x="1054" y="171.4" width="25" height="4.8" rx="2.4" fill="#000" fill-opacity="0.88" filter="url(#b1)"/>
<rect x="1086.5" y="166.8" width="21.5" height="12" rx="6" fill="#000" fill-opacity="1" filter="url(#b1)"/>
<rect x="1087" y="180" width="20.5" height="10" fill="#000" fill-opacity="0.45" filter="url(#b2)"/>
</g>
<rect x="1047.6" y="157" width="65.4" height="31.6" fill="none" stroke="#111" stroke-width="1.55"/>
<text x="1040.5" y="180" font-size="16.2" font-weight="bold" text-anchor="end" textLength="42.08" lengthAdjust="spacingAndGlyphs">EGFR</text>
<path d="M1117.8 172.1 L1125.4 168.2 L1125.4 176 Z" fill="#000"/>
<line x1="1124.5" y1="172.1" x2="1141.6" y2="172.1" stroke="#000" stroke-width="1.2"/>
<text x="1141.8" y="176.3" font-size="13.1" stroke="#000" stroke-width="0.22" textLength="44.8" lengthAdjust="spacingAndGlyphs">170 kDa</text>
<text x="1063.8" y="81.3" font-size="11.6" font-weight="bold" transform="rotate(-45 1063.8 81.3)">input</text>
<text x="1093.4" y="81.3" font-size="11.6" font-weight="bold" transform="rotate(-45 1093.4 81.3)">EGFR IP</text>
<text x="1060.5" y="217.2" font-size="23.7" font-weight="bold" textLength="43" lengthAdjust="spacingAndGlyphs">ES2</text>
<text x="429.9" y="483.9" font-size="32" font-weight="bold">C</text>
<rect x="567.5" y="580.4" width="272.1" height="24.3" fill="rgb(240,240,240)"/>
<g clip-path="url(#c23)">
<rect x="574.5" y="589.9" width="16" height="3" rx="1.5" fill="#000" fill-opacity="0.35" filter="url(#b1)"/>
<rect x="597" y="578.4" width="19.5" height="29" fill="#000" fill-opacity="0.2" filter="url(#b2)"/>
<rect x="596.5" y="585.7" width="20.5" height="8" rx="4" fill="#000" fill-opacity="1" filter="url(#b1)"/>
<rect x="624" y="589.5" width="15" height="2.8" rx="1.4" fill="#000" fill-opacity="0.3" filter="url(#b1)"/>
<rect x="646.5" y="591.2" width="18.5" height="3" rx="1.5" fill="#000" fill-opacity="0.88" filter="url(#b1)"/>
<rect x="646.5" y="586.65" width="18.5" height="2.5" rx="1.25" fill="#000" fill-opacity="0.12" filter="url(#b1)"/>
<rect x="672" y="589.1" width="16.5" height="3.6" rx="1.8" fill="#000" fill-opacity="0.62" filter="url(#b1)"/>
<rect x="697" y="589.5" width="14" height="2.8" rx="1.4" fill="#000" fill-opacity="0.18" filter="url(#b1)"/>
<rect x="718" y="587.7" width="21" height="7.4" rx="3.7" fill="#000" fill-opacity="1" filter="url(#b1)"/>
<rect x="744.5" y="589.3" width="16.5" height="3.2" rx="1.6" fill="#000" fill-opacity="0.92" filter="url(#b1)"/>
<rect x="767.5" y="586.3" width="19.5" height="7.8" rx="3.9" fill="#000" fill-opacity="1" filter="url(#b1)"/>
<rect x="793.5" y="590" width="14" height="2.8" rx="1.4" fill="#000" fill-opacity="0.3" filter="url(#b1)"/>
<rect x="817.5" y="589.1" width="14.5" height="2.6" rx="1.3" fill="#000" fill-opacity="0.25" filter="url(#b1)"/>
<rect x="817" y="600.6" width="15.5" height="2.6" rx="1.3" fill="#000" fill-opacity="0.22" filter="url(#b1)"/>
</g>
<rect x="567.5" y="580.4" width="272.1" height="24.3" fill="none" stroke="#111" stroke-width="1.55"/>
<text x="559" y="600.8" font-size="14.8" stroke="#000" stroke-width="0.22" text-anchor="end" textLength="104.8" lengthAdjust="spacingAndGlyphs">phospho-EGFR</text>
<rect x="567.5" y="614.7" width="272.1" height="23.8" fill="rgb(250,250,250)"/>
<g clip-path="url(#c24)">
<rect x="572.5" y="616.7" width="20" height="10" fill="#000" fill-opacity="0.08" filter="url(#b2)"/>
<rect x="572.5" y="627.7" width="20" height="14" fill="#000" fill-opacity="0.6" filter="url(#b1)"/>
<rect x="572.5" y="626.9" width="20" height="3.6" rx="1.8" fill="#000" fill-opacity="0.85" filter="url(#b1)"/>
<rect x="572" y="632.2" width="21" height="8" rx="2" fill="#000" fill-opacity="1" filter="url(#b1)"/>
<rect x="597" y="622.7" width="19.5" height="18" fill="#000" fill-opacity="0.25" filter="url(#b2)"/>
<rect x="597.5" y="624.2" width="18.5" height="4" rx="2" fill="#000" fill-opacity="0.75" filter="url(#b1)"/>
<rect x="621.5" y="627.7" width="20" height="14" fill="#000" fill-opacity="0.55" filter="url(#b1)"/>
<rect x="622" y="627.1" width="19" height="3.2" rx="1.6" fill="#000" fill-opacity="0.82" filter="url(#b1)"/>
<rect x="621.5" y="632.7" width="20" height="7" rx="2" fill="#000" fill-opacity="1" filter="url(#b1)"/>
<rect x="645" y="626.7" width="21.5" height="14" rx="4" fill="#000" fill-opacity="1" filter="url(#b1)"/>
<rect x="670.5" y="618.7" width="19.5" height="22" fill="#000" fill-opacity="0.08" filter="url(#b2)"/>
<rect x="670.5" y="626.7" width="19.5" height="15" fill="#000" fill-opacity="0.14" filter="url(#b1)"/>
<rect x="671.5" y="627.4" width="17.5" height="3.6" rx="1.8" fill="#000" fill-opacity="0.48" filter="url(#b1)"/>
<rect x="671.5" y="633.4" width="17.5" height="3.6" rx="1.8" fill="#000" fill-opacity="0.4" filter="url(#b1)"/>
<rect x="696.5" y="633" width="15" height="3.4" rx="1.7" fill="#000" fill-opacity="0.2" filter="url(#b1)"/>
<rect x="719" y="627.6" width="19" height="5.2" rx="2.6" fill="#000" fill-opacity="1" filter="url(#b1)"/>
<rect x="718.5" y="631.7" width="20" height="9" fill="#000" fill-opacity="0.45" filter="url(#b2)"/>
<rect x="744" y="627.1" width="17.5" height="4.2" rx="2.1" fill="#000" fill-opacity="1" filter="url(#b1)"/>
<rect x="743" y="631.7" width="19.5" height="9" fill="#000" fill-opacity="0.28" filter="url(#b2)"/>
<rect x="767.5" y="624.2" width="19.5" height="7" rx="3.5" fill="#000" fill-opacity="1" filter="url(#b1)"/>
<rect x="767.5" y="630.7" width="19.5" height="10" fill="#000" fill-opacity="0.5" filter="url(#b2)"/>
<rect x="791" y="628.7" width="19" height="13" fill="#000" fill-opacity="0.22" filter="url(#b1)"/>
<rect x="792" y="628.6" width="17" height="3.2" rx="1.6" fill="#000" fill-opacity="0.85" filter="url(#b1)"/>
<rect x="792" y="633.9" width="17" height="3.6" rx="1.8" fill="#000" fill-opacity="0.5" filter="url(#b1)"/>
<rect x="817" y="629.7" width="15.5" height="3" rx="1.5" fill="#000" fill-opacity="0.25" filter="url(#b1)"/>
<rect x="817" y="634.2" width="15.5" height="3" rx="1.5" fill="#000" fill-opacity="0.2" filter="url(#b1)"/>
</g>
<rect x="567.5" y="614.7" width="272.1" height="23.8" fill="none" stroke="#111" stroke-width="1.55"/>
<text x="559" y="634.6" font-size="14.8" stroke="#000" stroke-width="0.22" text-anchor="end">EGFR</text>
<rect x="567.5" y="648" width="272.1" height="25.5" fill="rgb(237,237,237)"/>
<g clip-path="url(#c25)">
<rect x="572.5" y="648" width="20" height="26" fill="#000" fill-opacity="0.1" filter="url(#b2)"/>
<rect x="573.5" y="650.5" width="18" height="4" rx="2" fill="#000" fill-opacity="0.25" filter="url(#b2)"/>
<rect x="573.5" y="660.2" width="18" height="2.2" rx="1.1" fill="#000" fill-opacity="0.55" filter="url(#b0)"/>
<rect x="597" y="648" width="19.5" height="26" fill="#000" fill-opacity="0.22" filter="url(#b2)"/>
<rect x="598" y="651" width="17.5" height="4" rx="2" fill="#000" fill-opacity="0.8" filter="url(#b1)"/>
<rect x="598" y="659.4" width="17.5" height="2.8" rx="1.4" fill="#000" fill-opacity="0.88" filter="url(#b0)"/>
<rect x="598" y="665.25" width="17.5" height="4.5" rx="2.25" fill="#000" fill-opacity="0.45" filter="url(#b1)"/>
<rect x="621.5" y="648" width="20" height="26" fill="#000" fill-opacity="0.06" filter="url(#b2)"/>
<rect x="623" y="652" width="17" height="3" rx="1.5" fill="#000" fill-opacity="0.22" filter="url(#b1)"/>
<rect x="622.5" y="659.8" width="18" height="2.4" rx="1.2" fill="#000" fill-opacity="0.92" filter="url(#b0)"/>
<rect x="623" y="666.5" width="17" height="3" rx="1.5" fill="#000" fill-opacity="0.12" filter="url(#b1)"/>
<rect x="647" y="659.9" width="17.5" height="2.2" rx="1.1" fill="#000" fill-opacity="0.4" filter="url(#b0)"/>
<rect x="647" y="652" width="17.5" height="3" rx="1.5" fill="#000" fill-opacity="0.1" filter="url(#b1)"/>
<rect x="672" y="659.9" width="16.5" height="2.2" rx="1.1" fill="#000" fill-opacity="0.62" filter="url(#b0)"/>
<rect x="672" y="651.5" width="16.5" height="3" rx="1.5" fill="#000" fill-opacity="0.14" filter="url(#b1)"/>
<rect x="672" y="666.5" width="16.5" height="3" rx="1.5" fill="#000" fill-opacity="0.08" filter="url(#b1)"/>
<rect x="696.5" y="651.5" width="15" height="3" rx="1.5" fill="#000" fill-opacity="0.06" filter="url(#b1)"/>
<rect x="718.5" y="648" width="20" height="26" fill="#000" fill-opacity="0.15" filter="url(#b2)"/>
<rect x="719.5" y="652.7" width="18" height="3.6" rx="1.8" fill="#000" fill-opacity="0.7" filter="url(#b1)"/>
<rect x="719" y="659" width="19" height="4" rx="2" fill="#000" fill-opacity="0.98" filter="url(#b1)"/>
<rect x="719.5" y="666" width="18" height="4" rx="2" fill="#000" fill-opacity="0.25" filter="url(#b1)"/>
<rect x="743" y="648" width="19.5" height="26" fill="#000" fill-opacity="0.06" filter="url(#b2)"/>
<rect x="744.5" y="653" width="16.5" height="3" rx="1.5" fill="#000" fill-opacity="0.35" filter="url(#b1)"/>
<rect x="744.5" y="659.8" width="16.5" height="2.4" rx="1.2" fill="#000" fill-opacity="0.8" filter="url(#b0)"/>
<rect x="767.5" y="648" width="19.5" height="26" fill="#000" fill-opacity="0.1" filter="url(#b2)"/>
<rect x="768.5" y="651.3" width="17.5" height="3.4" rx="1.7" fill="#000" fill-opacity="0.4" filter="url(#b1)"/>
<rect x="768" y="658" width="18.5" height="4.4" rx="2.2" fill="#000" fill-opacity="0.98" filter="url(#b1)"/>
<rect x="768.5" y="665.75" width="17.5" height="3.5" rx="1.75" fill="#000" fill-opacity="0.25" filter="url(#b1)"/>
<rect x="792" y="658.7" width="17" height="3" rx="1.5" fill="#000" fill-opacity="0.95" filter="url(#b0)"/>
<rect x="791" y="662" width="19" height="10" fill="#000" fill-opacity="0.08" filter="url(#b2)"/>
<rect x="817.5" y="658.4" width="14.5" height="2.2" rx="1.1" fill="#000" fill-opacity="0.2" filter="url(#b1)"/>
<rect x="817.5" y="664.4" width="14.5" height="2.2" rx="1.1" fill="#000" fill-opacity="0.18" filter="url(#b1)"/>
</g>
<rect x="567.5" y="648" width="272.1" height="25.5" fill="none" stroke="#111" stroke-width="1.55"/>
<text x="559" y="668.4" font-size="14.8" stroke="#000" stroke-width="0.22" text-anchor="end">phospho-ErbB2</text>
<rect x="567.5" y="682.5" width="272.1" height="24.5" fill="rgb(242,242,242)"/>
<g clip-path="url(#c26)">
<rect x="574.5" y="694.1" width="16" height="3.2" rx="1.6" fill="#000" fill-opacity="0.72" filter="url(#b1)"/>
<rect x="597" y="691.5" width="19.5" height="6" rx="3" fill="#000" fill-opacity="1" filter="url(#b1)"/>
<rect x="597" y="698.5" width="19.5" height="10" fill="#000" fill-opacity="0.1" filter="url(#b2)"/>
<rect x="622" y="692.7" width="19" height="4.6" rx="2.3" fill="#000" fill-opacity="0.95" filter="url(#b1)"/>
<rect x="621.5" y="698.5" width="20" height="10" fill="#000" fill-opacity="0.05" filter="url(#b2)"/>
<rect x="648" y="694.7" width="15.5" height="2.6" rx="1.3" fill="#000" fill-opacity="0.18" filter="url(#b1)"/>
<rect x="672" y="693.4" width="16.5" height="3.2" rx="1.6" fill="#000" fill-opacity="0.72" filter="url(#b1)"/>
<rect x="718.5" y="692.8" width="20" height="6.8" rx="3.4" fill="#000" fill-opacity="1" filter="url(#b1)"/>
<rect x="718.5" y="682.5" width="20" height="8" fill="#000" fill-opacity="0.08" filter="url(#b2)"/>
<rect x="743.5" y="693.2" width="18.5" height="6" rx="3" fill="#000" fill-opacity="1" filter="url(#b1)"/>
<rect x="769" y="692.1" width="16.5" height="4.4" rx="2.2" fill="#000" fill-opacity="0.95" filter="url(#b1)"/>
<rect x="767.5" y="697.5" width="19.5" height="9" fill="#000" fill-opacity="0.06" filter="url(#b2)"/>
<rect x="792.5" y="694.6" width="16" height="3.2" rx="1.6" fill="#000" fill-opacity="0.9" filter="url(#b1)"/>
<rect x="817" y="693.1" width="15.5" height="2.8" rx="1.4" fill="#000" fill-opacity="0.3" filter="url(#b1)"/>
</g>
<rect x="567.5" y="682.5" width="272.1" height="24.5" fill="none" stroke="#111" stroke-width="1.55"/>
<text x="559" y="701.9" font-size="14.8" stroke="#000" stroke-width="0.22" text-anchor="end">ErbB2</text>
<rect x="567.5" y="716.5" width="272.1" height="25.1" fill="rgb(232,232,232)"/>
<g clip-path="url(#c27)">
<rect x="574" y="721" width="17" height="3" rx="1.5" fill="#000" fill-opacity="0.12" filter="url(#b2)"/>
<rect x="574" y="728" width="17" height="4" rx="2" fill="#000" fill-opacity="0.2" filter="url(#b2)"/>
<rect x="597" y="716.5" width="19.5" height="26" fill="#000" fill-opacity="0.22" filter="url(#b2)"/>
<rect x="598" y="726.5" width="17.5" height="5" rx="2.5" fill="#000" fill-opacity="0.95" filter="url(#b1)"/>
<rect x="621.5" y="718.5" width="20" height="20" fill="#000" fill-opacity="0.08" filter="url(#b2)"/>
<rect x="622.5" y="727.25" width="18" height="5.5" rx="2.75" fill="#000" fill-opacity="0.38" filter="url(#b2)"/>
<rect x="647" y="727.5" width="17.5" height="5" rx="2.5" fill="#000" fill-opacity="0.18" filter="url(#b2)"/>
<rect x="647" y="720" width="17.5" height="3" rx="1.5" fill="#000" fill-opacity="0.1" filter="url(#b2)"/>
<rect x="670.5" y="716.5" width="19.5" height="22" fill="#000" fill-opacity="0.12" filter="url(#b2)"/>
<rect x="671.5" y="720.5" width="17.5" height="4" rx="2" fill="#000" fill-opacity="0.28" filter="url(#b2)"/>
<rect x="671.5" y="727" width="17.5" height="5" rx="2.5" fill="#000" fill-opacity="0.4" filter="url(#b2)"/>
<rect x="696" y="719.8" width="16" height="3" rx="1.5" fill="#000" fill-opacity="0.4" filter="url(#b1)"/>
<rect x="696" y="723.25" width="16" height="2.5" rx="1.25" fill="#000" fill-opacity="0.18" filter="url(#b1)"/>
<rect x="696" y="727" width="16" height="3" rx="1.5" fill="#000" fill-opacity="0.25" filter="url(#b1)"/>
<rect x="696" y="734" width="16" height="3" rx="1.5" fill="#000" fill-opacity="0.12" filter="url(#b2)"/>
<rect x="719.5" y="721" width="18" height="3" rx="1.5" fill="#000" fill-opacity="0.22" filter="url(#b2)"/>
<rect x="719.5" y="728" width="18" height="4" rx="2" fill="#000" fill-opacity="0.3" filter="url(#b2)"/>
<rect x="743" y="716.5" width="19.5" height="22" fill="#000" fill-opacity="0.08" filter="url(#b2)"/>
<rect x="744" y="728" width="17.5" height="5" rx="2.5" fill="#000" fill-opacity="0.42" filter="url(#b2)"/>
<rect x="768.5" y="723.4" width="17.5" height="3.2" rx="1.6" fill="#000" fill-opacity="0.85" filter="url(#b1)"/>
<rect x="768.5" y="729.5" width="17.5" height="4" rx="2" fill="#000" fill-opacity="0.2" filter="url(#b2)"/>
<rect x="791" y="716.5" width="19" height="26" fill="#000" fill-opacity="0.22" filter="url(#b2)"/>
<rect x="792" y="727" width="17" height="6" rx="3" fill="#000" fill-opacity="0.4" filter="url(#b2)"/>
<rect x="816" y="725.2" width="13.5" height="4.6" rx="2.3" fill="#000" fill-opacity="0.95" filter="url(#b1)"/>
<rect x="818" y="725.5" width="19.5" height="5" rx="2.5" fill="#000" fill-opacity="0.35" filter="url(#b2)"/>
</g>
<rect x="567.5" y="716.5" width="272.1" height="25.1" fill="none" stroke="#111" stroke-width="1.55"/>
<text x="559" y="736" font-size="14.8" stroke="#000" stroke-width="0.22" text-anchor="end">phospho-MET</text>
<rect x="567.5" y="751.4" width="272.1" height="24.2" fill="rgb(250,250,250)"/>
<g clip-path="url(#c28)">
<rect x="572.5" y="751.4" width="20" height="26" fill="#000" fill-opacity="0.16" filter="url(#b1)"/>
<rect x="572.5" y="753.8" width="20" height="2.2" rx="1.1" fill="#000" fill-opacity="0.28" filter="url(#b1)"/>
<rect x="572.5" y="758.8" width="20" height="2.2" rx="1.1" fill="#000" fill-opacity="0.22" filter="url(#b1)"/>
<rect x="572.5" y="764.8" width="20" height="2.2" rx="1.1" fill="#000" fill-opacity="0.22" filter="url(#b1)"/>
<rect x="572.5" y="771.1" width="20" height="2.6" rx="1.3" fill="#000" fill-opacity="0.32" filter="url(#b1)"/>
<rect x="597" y="751.4" width="19.5" height="26" fill="#000" fill-opacity="0.12" filter="url(#b1)"/>
<rect x="598" y="753" width="17.5" height="2.8" rx="1.4" fill="#000" fill-opacity="0.6" filter="url(#b1)"/>
<rect x="597.5" y="761.5" width="18.5" height="4.4" rx="2.2" fill="#000" fill-opacity="1" filter="url(#b1)"/>
<rect x="597.5" y="771.1" width="18.5" height="2.6" rx="1.3" fill="#000" fill-opacity="0.35" filter="url(#b1)"/>
<rect x="621.5" y="751.4" width="20" height="26" fill="#000" fill-opacity="0.08" filter="url(#b1)"/>
<rect x="622.5" y="763.6" width="18" height="2.6" rx="1.3" fill="#000" fill-opacity="0.22" filter="url(#b1)"/>
<rect x="622.5" y="771.1" width="18" height="2.6" rx="1.3" fill="#000" fill-opacity="0.25" filter="url(#b1)"/>
<rect x="645.5" y="751.4" width="20.5" height="26" fill="#000" fill-opacity="0.06" filter="url(#b1)"/>
<rect x="647" y="762.7" width="17.5" height="3" rx="1.5" fill="#000" fill-opacity="0.35" filter="url(#b1)"/>
<rect x="647" y="771.7" width="17.5" height="2.4" rx="1.2" fill="#000" fill-opacity="0.22" filter="url(#b1)"/>
<rect x="670.5" y="751.4" width="19.5" height="26" fill="#000" fill-opacity="0.08" filter="url(#b1)"/>
<rect x="671.5" y="754.6" width="17.5" height="3" rx="1.5" fill="#000" fill-opacity="0.28" filter="url(#b1)"/>
<rect x="671.5" y="763.7" width="17.5" height="2.4" rx="1.2" fill="#000" fill-opacity="0.1" filter="url(#b1)"/>
<rect x="671.5" y="771.2" width="17.5" height="2.4" rx="1.2" fill="#000" fill-opacity="0.15" filter="url(#b1)"/>
<rect x="695" y="751.4" width="18" height="26" fill="#000" fill-opacity="0.04" filter="url(#b1)"/>
<rect x="696" y="771.7" width="16" height="2.4" rx="1.2" fill="#000" fill-opacity="0.18" filter="url(#b1)"/>
<rect x="718.5" y="751.4" width="20" height="26" fill="#000" fill-opacity="0.22" filter="url(#b1)"/>
<rect x="719" y="753.9" width="19" height="3" rx="1.5" fill="#000" fill-opacity="0.35" filter="url(#b1)"/>
<rect x="719" y="763.4" width="19" height="3" rx="1.5" fill="#000" fill-opacity="0.25" filter="url(#b1)"/>
<rect x="719" y="770.9" width="19" height="3" rx="1.5" fill="#000" fill-opacity="0.48" filter="url(#b1)"/>
<rect x="743" y="751.4" width="19.5" height="26" fill="#000" fill-opacity="0.22" filter="url(#b1)"/>
<rect x="743.5" y="753.9" width="18.5" height="3" rx="1.5" fill="#000" fill-opacity="0.35" filter="url(#b1)"/>
<rect x="743.5" y="763.4" width="18.5" height="3" rx="1.5" fill="#000" fill-opacity="0.3" filter="url(#b1)"/>
<rect x="743.5" y="770.9" width="18.5" height="3" rx="1.5" fill="#000" fill-opacity="0.42" filter="url(#b1)"/>
<rect x="767.5" y="751.4" width="19.5" height="26" fill="#000" fill-opacity="0.12" filter="url(#b1)"/>
<rect x="768" y="759.8" width="18.5" height="4.2" rx="2.1" fill="#000" fill-opacity="1" filter="url(#b1)"/>
<rect x="768" y="770.9" width="18.5" height="3" rx="1.5" fill="#000" fill-opacity="0.45" filter="url(#b1)"/>
<rect x="791" y="751.4" width="19" height="26" fill="#000" fill-opacity="0.16" filter="url(#b1)"/>
<rect x="791.5" y="756.1" width="18" height="2.6" rx="1.3" fill="#000" fill-opacity="0.22" filter="url(#b1)"/>
<rect x="791.5" y="763.6" width="18" height="2.6" rx="1.3" fill="#000" fill-opacity="0.25" filter="url(#b1)"/>
<rect x="791.5" y="770.9" width="18" height="3" rx="1.5" fill="#000" fill-opacity="0.45" filter="url(#b1)"/>
<rect x="815" y="751.4" width="19.5" height="26" fill="#000" fill-opacity="0.03" filter="url(#b1)"/>
<rect x="817" y="762.1" width="15.5" height="2.6" rx="1.3" fill="#000" fill-opacity="0.12" filter="url(#b1)"/>
</g>
<rect x="567.5" y="751.4" width="272.1" height="24.2" fill="none" stroke="#111" stroke-width="1.55"/>
<text x="559" y="769.6" font-size="14.8" stroke="#000" stroke-width="0.22" text-anchor="end">MET</text>
<rect x="567.5" y="785.5" width="272.1" height="24.3" fill="rgb(245,245,245)"/>
<g clip-path="url(#c29)">
<rect x="572.5" y="784.5" width="20" height="28" fill="#000" fill-opacity="0.08" filter="url(#b1)"/>
<rect x="597" y="784.5" width="19.5" height="28" fill="#000" fill-opacity="0.07" filter="url(#b1)"/>
<rect x="621.5" y="784.5" width="20" height="28" fill="#000" fill-opacity="0.08" filter="url(#b1)"/>
<rect x="645.5" y="784.5" width="20.5" height="28" fill="#000" fill-opacity="0.08" filter="url(#b1)"/>
<rect x="670.5" y="784.5" width="19.5" height="28" fill="#000" fill-opacity="0.08" filter="url(#b1)"/>
<rect x="695" y="784.5" width="18" height="28" fill="#000" fill-opacity="0.03" filter="url(#b1)"/>
<rect x="718.5" y="784.5" width="20" height="28" fill="#000" fill-opacity="0.08" filter="url(#b1)"/>
<rect x="743" y="784.5" width="19.5" height="28" fill="#000" fill-opacity="0.08" filter="url(#b1)"/>
<rect x="767.5" y="784.5" width="19.5" height="28" fill="#000" fill-opacity="0.07" filter="url(#b1)"/>
<rect x="791" y="784.5" width="19" height="28" fill="#000" fill-opacity="0.08" filter="url(#b1)"/>
<rect x="815" y="784.5" width="19.5" height="28" fill="#000" fill-opacity="0.04" filter="url(#b1)"/>
<rect x="572.5" y="785.5" width="20" height="26" fill="#000" fill-opacity="0.08" filter="url(#b2)"/>
<rect x="573.5" y="787.7" width="18" height="2.6" rx="1.3" fill="#000" fill-opacity="0.6" filter="url(#b1)"/>
<rect x="573.5" y="794.5" width="18" height="3" rx="1.5" fill="#000" fill-opacity="0.28" filter="url(#b1)"/>
<rect x="597" y="785.5" width="19.5" height="26" fill="#000" fill-opacity="0.05" filter="url(#b2)"/>
<rect x="598.5" y="793.8" width="16.5" height="3" rx="1.5" fill="#000" fill-opacity="0.28" filter="url(#b1)"/>
<rect x="622" y="793.7" width="19" height="4.6" rx="2.3" fill="#000" fill-opacity="0.97" filter="url(#b1)"/>
<rect x="621.5" y="798.5" width="20" height="11" fill="#000" fill-opacity="0.15" filter="url(#b2)"/>
<rect x="645.5" y="787.5" width="20.5" height="20" fill="#000" fill-opacity="0.08" filter="url(#b2)"/>
<rect x="647" y="793.7" width="17.5" height="4.6" rx="2.3" fill="#000" fill-opacity="0.65" filter="url(#b1)"/>
<rect x="657.9" y="785" width="1.6" height="22" rx="0.5" fill="#000" fill-opacity="0.3" filter="url(#b1)"/>
<rect x="657.4" y="792.25" width="3" height="7.5" rx="1.5" fill="#000" fill-opacity="0.7" filter="url(#b1)"/>
<rect x="672" y="793.3" width="16.5" height="4.4" rx="2.2" fill="#000" fill-opacity="0.55" filter="url(#b1)"/>
<rect x="670.5" y="787.5" width="19.5" height="20" fill="#000" fill-opacity="0.06" filter="url(#b2)"/>
<rect x="697" y="793.7" width="14" height="2.6" rx="1.3" fill="#000" fill-opacity="0.06" filter="url(#b1)"/>
<rect x="718.5" y="788.5" width="20" height="23" fill="#000" fill-opacity="0.2" filter="url(#b2)"/>
<rect x="719" y="793.1" width="19" height="4.8" rx="2.4" fill="#000" fill-opacity="0.45" filter="url(#b1)"/>
<rect x="743" y="788.5" width="19.5" height="23" fill="#000" fill-opacity="0.22" filter="url(#b2)"/>
<rect x="743.5" y="792.4" width="18.5" height="6.2" rx="3.1" fill="#000" fill-opacity="1" filter="url(#b1)"/>
<rect x="743.5" y="802" width="18.5" height="3" rx="1.5" fill="#000" fill-opacity="0.3" filter="url(#b1)"/>
<rect x="767.5" y="788.5" width="19.5" height="19" fill="#000" fill-opacity="0.1" filter="url(#b2)"/>
<rect x="769" y="792.2" width="16.5" height="4.6" rx="2.3" fill="#000" fill-opacity="0.82" filter="url(#b1)"/>
<rect x="775.8" y="789" width="1.4" height="8" rx="0.5" fill="#000" fill-opacity="0.25" filter="url(#b1)"/>
<rect x="791" y="788.5" width="19" height="23" fill="#000" fill-opacity="0.22" filter="url(#b2)"/>
<rect x="791.5" y="792.7" width="18" height="5.6" rx="2.8" fill="#000" fill-opacity="1" filter="url(#b1)"/>
<rect x="817" y="791.1" width="15.5" height="2.8" rx="1.4" fill="#000" fill-opacity="0.15" filter="url(#b1)"/>
<rect x="815" y="789.5" width="19.5" height="18" fill="#000" fill-opacity="0.04" filter="url(#b2)"/>
</g>
<rect x="567.5" y="785.5" width="272.1" height="24.3" fill="none" stroke="#111" stroke-width="1.55"/>
<text x="559" y="804.2" font-size="14.8" stroke="#000" stroke-width="0.22" text-anchor="end">AXL</text>
<rect x="567.5" y="819.2" width="272.1" height="25.2" fill="rgb(245,245,245)"/>
<g clip-path="url(#c30)">
<rect x="572.5" y="818.2" width="20" height="28" fill="#000" fill-opacity="0.06" filter="url(#b1)"/>
<rect x="597" y="818.2" width="19.5" height="28" fill="#000" fill-opacity="0.06" filter="url(#b1)"/>
<rect x="621.5" y="818.2" width="20" height="28" fill="#000" fill-opacity="0.08" filter="url(#b1)"/>
<rect x="645.5" y="818.2" width="20.5" height="28" fill="#000" fill-opacity="0.08" filter="url(#b1)"/>
<rect x="670.5" y="818.2" width="19.5" height="28" fill="#000" fill-opacity="0.06" filter="url(#b1)"/>
<rect x="695" y="818.2" width="18" height="28" fill="#000" fill-opacity="0.03" filter="url(#b1)"/>
<rect x="718.5" y="818.2" width="20" height="28" fill="#000" fill-opacity="0.06" filter="url(#b1)"/>
<rect x="743" y="818.2" width="19.5" height="28" fill="#000" fill-opacity="0.06" filter="url(#b1)"/>
<rect x="767.5" y="818.2" width="19.5" height="28" fill="#000" fill-opacity="0.06" filter="url(#b1)"/>
<rect x="791" y="818.2" width="19" height="28" fill="#000" fill-opacity="0.06" filter="url(#b1)"/>
<rect x="815" y="818.2" width="19.5" height="28" fill="#000" fill-opacity="0.04" filter="url(#b1)"/>
<rect x="572.5" y="819.2" width="20" height="26" fill="#000" fill-opacity="0.14" filter="url(#b2)"/>
<rect x="567.55" y="822" width="1.5" height="20" rx="0.75" fill="#000" fill-opacity="0.7" filter="url(#b0)"/>
<rect x="572.5" y="823.4" width="20" height="2.6" rx="1.3" fill="#000" fill-opacity="0.2" filter="url(#b1)"/>
<rect x="572.5" y="831.2" width="20" height="3" rx="1.5" fill="#000" fill-opacity="0.42" filter="url(#b1)"/>
<rect x="572.5" y="838.2" width="20" height="3" rx="1.5" fill="#000" fill-opacity="0.3" filter="url(#b1)"/>
<rect x="597" y="819.2" width="19.5" height="26" fill="#000" fill-opacity="0.18" filter="url(#b2)"/>
<rect x="597.5" y="830.4" width="18.5" height="4.6" rx="2.3" fill="#000" fill-opacity="0.65" filter="url(#b1)"/>
<rect x="597.5" y="840.1" width="18.5" height="3.2" rx="1.6" fill="#000" fill-opacity="1" filter="url(#b1)"/>
<rect x="621.5" y="819.2" width="20" height="26" fill="#000" fill-opacity="0.08" filter="url(#b2)"/>
<rect x="622.5" y="831" width="18" height="2.4" rx="1.2" fill="#000" fill-opacity="0.18" filter="url(#b1)"/>
<rect x="622.5" y="835" width="18" height="2.4" rx="1.2" fill="#000" fill-opacity="0.18" filter="url(#b1)"/>
<rect x="645.5" y="819.2" width="20.5" height="26" fill="#000" fill-opacity="0.05" filter="url(#b2)"/>
<rect x="647" y="831.7" width="17.5" height="3" rx="1.5" fill="#000" fill-opacity="0.18" filter="url(#b1)"/>
<rect x="647" y="840.9" width="17.5" height="2.6" rx="1.3" fill="#000" fill-opacity="0.35" filter="url(#b1)"/>
<rect x="670.5" y="819.2" width="19.5" height="26" fill="#000" fill-opacity="0.12" filter="url(#b2)"/>
<rect x="671.5" y="831.2" width="17.5" height="4" rx="2" fill="#000" fill-opacity="0.28" filter="url(#b1)"/>
<rect x="718.5" y="819.2" width="20" height="26" fill="#000" fill-opacity="0.22" filter="url(#b2)"/>
<rect x="719" y="822.1" width="19" height="2.6" rx="1.3" fill="#000" fill-opacity="0.3" filter="url(#b1)"/>
<rect x="719" y="831.4" width="19" height="4.2" rx="2.1" fill="#000" fill-opacity="0.88" filter="url(#b1)"/>
<rect x="719" y="838.2" width="19" height="3" rx="1.5" fill="#000" fill-opacity="0.3" filter="url(#b1)"/>
<rect x="743" y="819.2" width="19.5" height="26" fill="#000" fill-opacity="0.26" filter="url(#b2)"/>
<rect x="743.5" y="822.1" width="18.5" height="2.6" rx="1.3" fill="#000" fill-opacity="0.3" filter="url(#b1)"/>
<rect x="743.5" y="831.1" width="18.5" height="4.6" rx="2.3" fill="#000" fill-opacity="0.62" filter="url(#b1)"/>
<rect x="767.5" y="819.2" width="19.5" height="26" fill="#000" fill-opacity="0.12" filter="url(#b2)"/>
<rect x="768.5" y="831.2" width="17.5" height="3" rx="1.5" fill="#000" fill-opacity="0.4" filter="url(#b1)"/>
<rect x="768.5" y="840.5" width="17.5" height="2.8" rx="1.4" fill="#000" fill-opacity="0.95" filter="url(#b1)"/>
<rect x="791" y="819.2" width="19" height="26" fill="#000" fill-opacity="0.12" filter="url(#b2)"/>
<rect x="792" y="823.5" width="17" height="2.4" rx="1.2" fill="#000" fill-opacity="0.25" filter="url(#b1)"/>
<rect x="792" y="830.9" width="17" height="2.6" rx="1.3" fill="#000" fill-opacity="0.32" filter="url(#b1)"/>
<rect x="792" y="834.9" width="17" height="2.6" rx="1.3" fill="#000" fill-opacity="0.28" filter="url(#b1)"/>
<rect x="817.5" y="832.6" width="14.5" height="3.2" rx="1.6" fill="#000" fill-opacity="0.22" filter="url(#b1)"/>
</g>
<rect x="567.5" y="819.2" width="272.1" height="25.2" fill="none" stroke="#111" stroke-width="1.55"/>
<text x="559" y="838" font-size="14.8" stroke="#000" stroke-width="0.22" text-anchor="end">ErbB4</text>
<rect x="567.5" y="853.3" width="272.1" height="24.9" fill="rgb(245,245,245)"/>
<g clip-path="url(#c31)">
<rect x="571.5" y="865.1" width="22" height="5.4" rx="2.7" fill="#000" fill-opacity="1" filter="url(#b1)"/>
<rect x="598" y="865.8" width="17.5" height="4" rx="2" fill="#000" fill-opacity="1" filter="url(#b1)"/>
<rect x="621.5" y="865.6" width="20" height="5" rx="2.5" fill="#000" fill-opacity="1" filter="url(#b1)"/>
<rect x="645" y="865" width="21.5" height="5.6" rx="2.8" fill="#000" fill-opacity="1" filter="url(#b1)"/>
<rect x="670" y="863.2" width="20.5" height="8.6" rx="4.3" fill="#000" fill-opacity="1" filter="url(#b1)"/>
<rect x="694" y="865.8" width="20" height="4.6" rx="2.3" fill="#000" fill-opacity="1" filter="url(#b1)"/>
<rect x="718.5" y="865.1" width="20" height="6" rx="3" fill="#000" fill-opacity="1" filter="url(#b1)"/>
<rect x="742.5" y="865.2" width="20.5" height="6.2" rx="3.1" fill="#000" fill-opacity="1" filter="url(#b1)"/>
<rect x="767" y="865.3" width="20.5" height="5.6" rx="2.8" fill="#000" fill-opacity="1" filter="url(#b1)"/>
<rect x="790.5" y="863.2" width="20" height="6" rx="3" fill="#000" fill-opacity="1" filter="url(#b1)" transform="rotate(-6 800.5 866.2)"/>
<rect x="817" y="859.8" width="21.5" height="5" rx="2.5" fill="#000" fill-opacity="1" filter="url(#b1)" transform="rotate(-20 827.75 862.3)"/>
</g>
<rect x="567.5" y="853.3" width="272.1" height="24.9" fill="none" stroke="#111" stroke-width="1.55"/>
<text x="559" y="871.4" font-size="14.8" stroke="#000" stroke-width="0.22" text-anchor="end">&#946;-actin</text>
<line x1="575" y1="543.4" x2="600.8" y2="543.4" stroke="#000" stroke-width="1.8"/>
<line x1="610.6" y1="543.4" x2="843.3" y2="543.4" stroke="#000" stroke-width="1.8"/>
<text x="584.3" y="571" font-size="15" font-weight="bold" transform="rotate(-45 584.3 571)">p5</text>
<text x="608.5" y="571" font-size="15" font-weight="bold" transform="rotate(-45 608.5 571)">p1</text>
<text x="634.5" y="571" font-size="15" font-weight="bold" transform="rotate(-45 634.5 571)">p2</text>
<text x="661" y="571" font-size="15" font-weight="bold" transform="rotate(-45 661 571)">p3</text>
<text x="685" y="571" font-size="15" font-weight="bold" transform="rotate(-45 685 571)">p8</text>
<text x="711" y="571" font-size="15" font-weight="bold" transform="rotate(-45 711 571)">p9</text>
<text x="734" y="571" font-size="15" font-weight="bold" transform="rotate(-45 734 571)">p10</text>
<text x="758.5" y="571" font-size="15" font-weight="bold" transform="rotate(-45 758.5 571)">p11</text>
<text x="783" y="571" font-size="15" font-weight="bold" transform="rotate(-45 783 571)">p12</text>
<text x="810" y="571" font-size="15" font-weight="bold" transform="rotate(-45 810 571)">p13</text>
<text x="836.5" y="571" font-size="15" font-weight="bold" transform="rotate(-45 836.5 571)">p14</text>
<text x="592" y="541.5" font-size="14.6" font-weight="bold" transform="rotate(-38 592 541.5)">borderline mucinous cystadenoma</text>
<text x="725.5" y="541" font-size="14.6" font-weight="bold" transform="rotate(-38 725.5 541)">epithelial ovarian cancer</text>
<rect x="858.6" y="580.4" width="123.4" height="24.3" fill="rgb(235,235,235)"/>
<g clip-path="url(#c32)">
<rect x="865.5" y="590.5" width="15.5" height="3" rx="1.5" fill="#000" fill-opacity="0.32" filter="url(#b1)"/>
<rect x="887.5" y="580.4" width="18.5" height="26" fill="#000" fill-opacity="0.18" filter="url(#b2)"/>
<rect x="887.5" y="588.5" width="18.5" height="7" rx="3.5" fill="#000" fill-opacity="1" filter="url(#b1)"/>
<rect x="912.5" y="580.1" width="16" height="1.4" rx="0.7" fill="#000" fill-opacity="0.7" filter="url(#b0)"/>
<rect x="936.5" y="585.7" width="15" height="2.4" rx="1.2" fill="#000" fill-opacity="0.18" filter="url(#b1)"/>
<rect x="936.5" y="590.6" width="15" height="2.8" rx="1.4" fill="#000" fill-opacity="0.72" filter="url(#b1)"/>
<rect x="959.5" y="592.3" width="17" height="3.4" rx="1.7" fill="#000" fill-opacity="0.88" filter="url(#b1)"/>
</g>
<rect x="858.6" y="580.4" width="123.4" height="24.3" fill="none" stroke="#111" stroke-width="1.55"/>
<path d="M985.7 593.5 L993.3 589.6 L993.3 597.4 Z" fill="#000"/>
<line x1="992.4" y1="593.5" x2="1006.3" y2="593.5" stroke="#000" stroke-width="1.2"/>
<text x="1010.4" y="597.7" font-size="13.1" stroke="#000" stroke-width="0.22" textLength="44.4" lengthAdjust="spacingAndGlyphs">170 kDa</text>
<rect x="858.6" y="614.7" width="123.4" height="23.8" fill="rgb(242,242,242)"/>
<g clip-path="url(#c33)">
<rect x="864.5" y="627" width="17.5" height="3.4" rx="1.7" fill="#000" fill-opacity="0.5" filter="url(#b1)"/>
<rect x="864" y="631.8" width="18.5" height="5.4" rx="2.7" fill="#000" fill-opacity="1" filter="url(#b1)"/>
<rect x="864" y="622.7" width="18.5" height="18" fill="#000" fill-opacity="0.1" filter="url(#b2)"/>
<rect x="888" y="624.9" width="17.5" height="4.8" rx="2.4" fill="#000" fill-opacity="1" filter="url(#b1)"/>
<rect x="887.5" y="628.7" width="18.5" height="12" fill="#000" fill-opacity="0.45" filter="url(#b2)"/>
<rect x="912.5" y="627.5" width="16.5" height="3.4" rx="1.7" fill="#000" fill-opacity="0.35" filter="url(#b1)"/>
<rect x="912.5" y="633" width="16.5" height="4" rx="2" fill="#000" fill-opacity="0.62" filter="url(#b1)"/>
<rect x="935.5" y="626.1" width="17" height="3.6" rx="1.8" fill="#000" fill-opacity="0.85" filter="url(#b1)"/>
<rect x="935" y="631.5" width="18" height="5.4" rx="2.7" fill="#000" fill-opacity="1" filter="url(#b1)"/>
<rect x="959" y="627.3" width="18" height="4" rx="2" fill="#000" fill-opacity="0.92" filter="url(#b1)"/>
<rect x="959" y="633.2" width="18" height="4" rx="2" fill="#000" fill-opacity="0.72" filter="url(#b1)"/>
</g>
<rect x="858.6" y="614.7" width="123.4" height="23.8" fill="none" stroke="#111" stroke-width="1.55"/>
<path d="M985.7 628.4 L993.3 624.5 L993.3 632.3 Z" fill="#000"/>
<line x1="992.4" y1="628.4" x2="1006.3" y2="628.4" stroke="#000" stroke-width="1.2"/>
<text x="1010.4" y="632.6" font-size="13.1" stroke="#000" stroke-width="0.22" textLength="44.4" lengthAdjust="spacingAndGlyphs">170 kDa</text>
<rect x="858.6" y="648" width="123.4" height="25.5" fill="rgb(242,242,242)"/>
<g clip-path="url(#c34)">
<rect x="864" y="648" width="18.5" height="26" fill="#000" fill-opacity="0.06" filter="url(#b2)"/>
<rect x="865" y="651.3" width="16.5" height="2.4" rx="1.2" fill="#000" fill-opacity="0.25" filter="url(#b1)"/>
<rect x="865" y="656.3" width="16.5" height="2.4" rx="1.2" fill="#000" fill-opacity="0.22" filter="url(#b1)"/>
<rect x="865" y="662.5" width="16.5" height="2.6" rx="1.3" fill="#000" fill-opacity="0.55" filter="url(#b1)"/>
<rect x="887.5" y="648" width="18.5" height="26" fill="#000" fill-opacity="0.42" filter="url(#b2)"/>
<rect x="888" y="655.6" width="17.5" height="4" rx="2" fill="#000" fill-opacity="0.9" filter="url(#b1)"/>
<rect x="888" y="662.3" width="17.5" height="3" rx="1.5" fill="#000" fill-opacity="0.75" filter="url(#b1)"/>
<rect x="888" y="667.6" width="17.5" height="4.4" rx="2.2" fill="#000" fill-opacity="1" filter="url(#b1)"/>
<rect x="913" y="651.3" width="15.5" height="2.4" rx="1.2" fill="#000" fill-opacity="0.22" filter="url(#b1)"/>
<rect x="913" y="656.3" width="15.5" height="2.4" rx="1.2" fill="#000" fill-opacity="0.15" filter="url(#b1)"/>
<rect x="913" y="662.1" width="15.5" height="2.6" rx="1.3" fill="#000" fill-opacity="0.4" filter="url(#b1)"/>
<rect x="936" y="650.7" width="16" height="2.2" rx="1.1" fill="#000" fill-opacity="0.32" filter="url(#b1)"/>
<rect x="936" y="656.4" width="16" height="2.2" rx="1.1" fill="#000" fill-opacity="0.15" filter="url(#b1)"/>
<rect x="936" y="662.2" width="16" height="2.4" rx="1.2" fill="#000" fill-opacity="0.32" filter="url(#b1)"/>
<rect x="936" y="668.3" width="16" height="3" rx="1.5" fill="#000" fill-opacity="0.45" filter="url(#b1)"/>
<rect x="959.5" y="656.2" width="17" height="2.6" rx="1.3" fill="#000" fill-opacity="0.32" filter="url(#b1)"/>
<rect x="959.5" y="662" width="17" height="2.8" rx="1.4" fill="#000" fill-opacity="0.62" filter="url(#b1)"/>
<rect x="959.5" y="667.9" width="17" height="3" rx="1.5" fill="#000" fill-opacity="0.45" filter="url(#b1)"/>
</g>
<rect x="858.6" y="648" width="123.4" height="25.5" fill="none" stroke="#111" stroke-width="1.55"/>
<path d="M985.7 658.5 L993.3 654.6 L993.3 662.4 Z" fill="#000"/>
<line x1="992.4" y1="658.5" x2="1006.3" y2="658.5" stroke="#000" stroke-width="1.2"/>
<text x="1010.4" y="662.7" font-size="13.1" stroke="#000" stroke-width="0.22" textLength="44.4" lengthAdjust="spacingAndGlyphs">180 kDa</text>
<rect x="858.6" y="682.5" width="123.4" height="24.5" fill="rgb(242,242,242)"/>
<g clip-path="url(#c35)">
<rect x="865" y="694.6" width="16.5" height="2.8" rx="1.4" fill="#000" fill-opacity="0.78" filter="url(#b1)"/>
<rect x="888" y="692.2" width="17.5" height="5.2" rx="2.6" fill="#000" fill-opacity="1" filter="url(#b1)"/>
<rect x="889" y="703" width="15.5" height="3" rx="1.5" fill="#000" fill-opacity="0.28" filter="url(#b1)"/>
<rect x="914" y="694.1" width="13.5" height="2.4" rx="1.2" fill="#000" fill-opacity="0.22" filter="url(#b1)"/>
<rect x="936.5" y="693.1" width="15" height="2.4" rx="1.2" fill="#000" fill-opacity="0.5" filter="url(#b1)"/>
<rect x="959.5" y="693.6" width="17" height="3.4" rx="1.7" fill="#000" fill-opacity="0.95" filter="url(#b1)"/>
</g>
<rect x="858.6" y="682.5" width="123.4" height="24.5" fill="none" stroke="#111" stroke-width="1.55"/>
<path d="M985.7 694 L993.3 690.1 L993.3 697.9 Z" fill="#000"/>
<line x1="992.4" y1="694" x2="1006.3" y2="694" stroke="#000" stroke-width="1.2"/>
<text x="1010.4" y="698.2" font-size="13.1" stroke="#000" stroke-width="0.22" textLength="44.4" lengthAdjust="spacingAndGlyphs">180 kDa</text>
<rect x="858.6" y="716.5" width="123.4" height="25.1" fill="rgb(224,224,224)"/>
<g clip-path="url(#c36)">
<rect x="864" y="720.5" width="18.5" height="18" fill="#000" fill-opacity="0.18" filter="url(#b2)"/>
<rect x="887.5" y="716.5" width="18.5" height="26" fill="#000" fill-opacity="0.15" filter="url(#b2)"/>
<rect x="888" y="727.6" width="17.5" height="4.4" rx="2.2" fill="#000" fill-opacity="0.95" filter="url(#b1)"/>
<rect x="913.5" y="732" width="14.5" height="5" rx="2.5" fill="#000" fill-opacity="0.06" filter="url(#b2)"/>
<rect x="935" y="722.5" width="18" height="20" fill="#000" fill-opacity="0.08" filter="url(#b2)"/>
<rect x="936" y="728.7" width="16" height="4.2" rx="2.1" fill="#000" fill-opacity="0.55" filter="url(#b1)"/>
<rect x="958.5" y="716.5" width="19" height="26" fill="#000" fill-opacity="0.18" filter="url(#b2)"/>
<rect x="959" y="728" width="18" height="4.4" rx="2.2" fill="#000" fill-opacity="0.75" filter="url(#b1)"/>
</g>
<rect x="858.6" y="716.5" width="123.4" height="25.1" fill="none" stroke="#111" stroke-width="1.55"/>
<path d="M985.7 729.6 L993.3 725.7 L993.3 733.5 Z" fill="#000"/>
<line x1="992.4" y1="729.6" x2="1006.3" y2="729.6" stroke="#000" stroke-width="1.2"/>
<text x="1010.4" y="733.8" font-size="13.1" stroke="#000" stroke-width="0.22" textLength="44.4" lengthAdjust="spacingAndGlyphs">160 kDa</text>
<rect x="858.6" y="751.4" width="123.4" height="24.2" fill="rgb(247,247,247)"/>
<g clip-path="url(#c37)">
<rect x="864" y="751.4" width="18.5" height="26" fill="#000" fill-opacity="0.42" filter="url(#b1)"/>
<rect x="864" y="753.1" width="18.5" height="2.6" rx="1.3" fill="#000" fill-opacity="0.5" filter="url(#b1)"/>
<rect x="864" y="758.3" width="18.5" height="2.6" rx="1.3" fill="#000" fill-opacity="0.35" filter="url(#b1)"/>
<rect x="864" y="763.3" width="18.5" height="2.8" rx="1.4" fill="#000" fill-opacity="0.5" filter="url(#b1)"/>
<rect x="864" y="770.4" width="18.5" height="3" rx="1.5" fill="#000" fill-opacity="0.5" filter="url(#b1)"/>
<rect x="887.5" y="751.4" width="18.5" height="26" fill="#000" fill-opacity="0.25" filter="url(#b1)"/>
<rect x="887.5" y="753.1" width="18.5" height="2.6" rx="1.3" fill="#000" fill-opacity="0.25" filter="url(#b1)"/>
<rect x="887.5" y="762.2" width="18.5" height="3" rx="1.5" fill="#000" fill-opacity="0.88" filter="url(#b1)"/>
<rect x="887.5" y="770.4" width="18.5" height="3" rx="1.5" fill="#000" fill-opacity="0.35" filter="url(#b1)"/>
<rect x="912" y="751.4" width="17.5" height="26" fill="#000" fill-opacity="0.35" filter="url(#b1)"/>
<rect x="912" y="754.1" width="17.5" height="2.6" rx="1.3" fill="#000" fill-opacity="0.45" filter="url(#b1)"/>
<rect x="912" y="763.4" width="17.5" height="2.6" rx="1.3" fill="#000" fill-opacity="0.3" filter="url(#b1)"/>
<rect x="912" y="770.4" width="17.5" height="3" rx="1.5" fill="#000" fill-opacity="0.35" filter="url(#b1)"/>
<rect x="935" y="751.4" width="18" height="26" fill="#000" fill-opacity="0.2" filter="url(#b1)"/>
<rect x="935" y="764.3" width="18" height="3" rx="1.5" fill="#000" fill-opacity="0.3" filter="url(#b1)"/>
<rect x="935" y="770.4" width="18" height="3" rx="1.5" fill="#000" fill-opacity="0.3" filter="url(#b1)"/>
<rect x="958.5" y="751.4" width="19" height="26" fill="#000" fill-opacity="0.45" filter="url(#b1)"/>
<rect x="958.5" y="753.1" width="19" height="2.6" rx="1.3" fill="#000" fill-opacity="0.45" filter="url(#b1)"/>
<rect x="958.5" y="763.3" width="19" height="2.8" rx="1.4" fill="#000" fill-opacity="0.35" filter="url(#b1)"/>
<rect x="958.5" y="770.4" width="19" height="3" rx="1.5" fill="#000" fill-opacity="0.45" filter="url(#b1)"/>
</g>
<rect x="858.6" y="751.4" width="123.4" height="24.2" fill="none" stroke="#111" stroke-width="1.55"/>
<path d="M985.7 765 L993.3 761.1 L993.3 768.9 Z" fill="#000"/>
<line x1="992.4" y1="765" x2="1010.2" y2="765" stroke="#000" stroke-width="1.2"/>
<text x="1010.4" y="769.2" font-size="13.1" stroke="#000" stroke-width="0.22" textLength="44.4" lengthAdjust="spacingAndGlyphs">160 kDa</text>
<rect x="858.6" y="785.5" width="123.4" height="24.3" fill="rgb(242,242,242)"/>
<g clip-path="url(#c38)">
<rect x="865" y="788.8" width="16.5" height="2.8" rx="1.4" fill="#000" fill-opacity="0.62" filter="url(#b1)"/>
<rect x="865" y="795" width="16.5" height="2.6" rx="1.3" fill="#000" fill-opacity="0.2" filter="url(#b1)"/>
<rect x="864" y="791.5" width="18.5" height="20" fill="#000" fill-opacity="0.05" filter="url(#b2)"/>
<rect x="887.5" y="785.5" width="18.5" height="26" fill="#000" fill-opacity="0.1" filter="url(#b2)"/>
<rect x="888.5" y="794.6" width="16.5" height="3.4" rx="1.7" fill="#000" fill-opacity="0.42" filter="url(#b1)"/>
<rect x="912" y="789.5" width="17.5" height="22" fill="#000" fill-opacity="0.14" filter="url(#b2)"/>
<rect x="913" y="794.5" width="15.5" height="3.6" rx="1.8" fill="#000" fill-opacity="0.4" filter="url(#b1)"/>
<rect x="913" y="800" width="15.5" height="3" rx="1.5" fill="#000" fill-opacity="0.25" filter="url(#b1)"/>
<rect x="913.5" y="806" width="14.5" height="2" rx="1" fill="#000" fill-opacity="0.65" filter="url(#b1)"/>
<rect x="936.5" y="795" width="15" height="2.6" rx="1.3" fill="#000" fill-opacity="0.38" filter="url(#b1)"/>
<rect x="958.5" y="785.5" width="19" height="26" fill="#000" fill-opacity="0.22" filter="url(#b2)"/>
<rect x="959.5" y="794.5" width="17" height="4.6" rx="2.3" fill="#000" fill-opacity="1" filter="url(#b1)"/>
</g>
<rect x="858.6" y="785.5" width="123.4" height="24.3" fill="none" stroke="#111" stroke-width="1.55"/>
<path d="M985.7 798 L993.3 794.1 L993.3 801.9 Z" fill="#000"/>
<line x1="992.4" y1="798" x2="1010.2" y2="798" stroke="#000" stroke-width="1.2"/>
<text x="1010.4" y="802.2" font-size="13.1" stroke="#000" stroke-width="0.22" textLength="44.4" lengthAdjust="spacingAndGlyphs">140 kDa</text>
<rect x="858.6" y="819.2" width="123.4" height="25.2" fill="rgb(245,245,245)"/>
<g clip-path="url(#c39)">
<rect x="864" y="819.2" width="18.5" height="26" fill="#000" fill-opacity="0.16" filter="url(#b2)"/>
<rect x="865" y="821.2" width="16.5" height="2" rx="1" fill="#000" fill-opacity="0.2" filter="url(#b1)"/>
<rect x="864.5" y="831.2" width="17.5" height="2.6" rx="1.3" fill="#000" fill-opacity="0.28" filter="url(#b1)"/>
<rect x="864.5" y="837.2" width="17.5" height="3" rx="1.5" fill="#000" fill-opacity="0.28" filter="url(#b1)"/>
<rect x="887.5" y="819.2" width="18.5" height="26" fill="#000" fill-opacity="0.25" filter="url(#b2)"/>
<rect x="888" y="829.1" width="17.5" height="3.6" rx="1.8" fill="#000" fill-opacity="0.8" filter="url(#b1)"/>
<rect x="888" y="834.7" width="17.5" height="2.6" rx="1.3" fill="#000" fill-opacity="0.7" filter="url(#b1)"/>
<rect x="912" y="819.2" width="17.5" height="26" fill="#000" fill-opacity="0.1" filter="url(#b2)"/>
<rect x="913" y="821.7" width="15.5" height="2" rx="1" fill="#000" fill-opacity="0.28" filter="url(#b1)"/>
<rect x="913" y="832.3" width="15.5" height="2.4" rx="1.2" fill="#000" fill-opacity="0.2" filter="url(#b1)"/>
<rect x="935" y="819.2" width="18" height="26" fill="#000" fill-opacity="0.04" filter="url(#b2)"/>
<rect x="936.5" y="830.5" width="15" height="2.4" rx="1.2" fill="#000" fill-opacity="0.14" filter="url(#b1)"/>
<rect x="958.5" y="819.2" width="19" height="26" fill="#000" fill-opacity="0.3" filter="url(#b2)"/>
<rect x="958.5" y="831.9" width="19" height="3.4" rx="1.7" fill="#000" fill-opacity="0.97" filter="url(#b1)"/>
</g>
<rect x="858.6" y="819.2" width="123.4" height="25.2" fill="none" stroke="#111" stroke-width="1.55"/>
<path d="M985.7 834.7 L993.3 830.8 L993.3 838.6 Z" fill="#000"/>
<line x1="992.4" y1="834.7" x2="1010.2" y2="834.7" stroke="#000" stroke-width="1.2"/>
<text x="1010.4" y="838.9" font-size="13.1" stroke="#000" stroke-width="0.22" textLength="44.4" lengthAdjust="spacingAndGlyphs">180 kDa</text>
<rect x="858.6" y="853.3" width="123.4" height="24.9" fill="rgb(237,237,237)"/>
<g clip-path="url(#c40)">
<rect x="863.5" y="863.2" width="19.5" height="5.2" rx="2.6" fill="#000" fill-opacity="1" filter="url(#b1)"/>
<rect x="888.5" y="864.1" width="16.5" height="3.6" rx="1.8" fill="#000" fill-opacity="1" filter="url(#b1)"/>
<rect x="910.5" y="862.6" width="20.5" height="6.6" rx="3.3" fill="#000" fill-opacity="1" filter="url(#b1)"/>
<rect x="934.5" y="862.6" width="19" height="6.2" rx="3.1" fill="#000" fill-opacity="1" filter="url(#b1)"/>
<rect x="958" y="862.6" width="20" height="6.6" rx="3.3" fill="#000" fill-opacity="1" filter="url(#b1)"/>
</g>
<rect x="858.6" y="853.3" width="123.4" height="24.9" fill="none" stroke="#111" stroke-width="1.55"/>
<path d="M985.7 865.7 L993.3 861.8 L993.3 869.6 Z" fill="#000"/>
<line x1="992.4" y1="865.7" x2="1006.3" y2="865.7" stroke="#000" stroke-width="1.2"/>
<text x="1016.3" y="869.9" font-size="13.1" stroke="#000" stroke-width="0.22" textLength="38.5" lengthAdjust="spacingAndGlyphs">42 kDa</text>
<line x1="874" y1="543.6" x2="912" y2="543.3" stroke="#000" stroke-width="1.8"/>
<line x1="923" y1="543.6" x2="983" y2="543.3" stroke="#000" stroke-width="1.8"/>
<text x="873.2" y="571" font-size="15" font-weight="bold" transform="rotate(-45 873.2 571)">p5</text>
<text x="897.8" y="571" font-size="15" font-weight="bold" transform="rotate(-45 897.8 571)">p7</text>
<text x="922.4" y="571" font-size="15" font-weight="bold" transform="rotate(-45 922.4 571)">p4</text>
<text x="946.8" y="571" font-size="15" font-weight="bold" transform="rotate(-45 946.8 571)">p6</text>
<text x="968.5" y="571" font-size="15" font-weight="bold" transform="rotate(-45 968.5 571)">p15</text>
<text x="897.5" y="541.5" font-size="14.6" font-weight="bold" transform="rotate(-36.4 897.5 541.5)">borderline mucinous cystadenoma</text>
<text x="954.5" y="541.5" font-size="14.6" font-weight="bold" transform="rotate(-36.2 954.5 541.5)">non-epithelial ovarian cancer</text>
<text x="21.8" y="605.9" font-size="32" font-weight="bold">D</text>
<rect x="52.6" y="794.5" width="309.6" height="33.5" fill="rgb(245,245,245)"/>
<g clip-path="url(#c41)">
<rect x="58.5" y="792" width="25.5" height="38" fill="#000" fill-opacity="0.16" filter="url(#b2)"/>
<rect x="60" y="811.4" width="22.5" height="3.2" rx="1.6" fill="#000" fill-opacity="0.72" filter="url(#b1)"/>
<rect x="90.5" y="792" width="27" height="38" fill="#000" fill-opacity="0.45" filter="url(#b2)"/>
<rect x="90.5" y="798" width="27" height="4" rx="2" fill="#000" fill-opacity="0.35" filter="url(#b1)"/>
<rect x="90" y="808.5" width="28" height="9" rx="4.5" fill="#000" fill-opacity="1" filter="url(#b1)"/>
<rect x="90.5" y="821" width="27" height="3.6" rx="1.8" fill="#000" fill-opacity="0.45" filter="url(#b1)"/>
<rect x="123.5" y="792" width="28" height="38" fill="#000" fill-opacity="0.45" filter="url(#b2)"/>
<rect x="123.5" y="796.3" width="28" height="3.4" rx="1.7" fill="#000" fill-opacity="0.5" filter="url(#b1)"/>
<rect x="123" y="808.8" width="29" height="10" rx="5" fill="#000" fill-opacity="1" filter="url(#b1)"/>
<rect x="158.5" y="792" width="28" height="38" fill="#000" fill-opacity="0.2" filter="url(#b2)"/>
<rect x="159" y="810.4" width="27" height="5.2" rx="2.6" fill="#000" fill-opacity="0.93" filter="url(#b1)"/>
<rect x="193.5" y="792" width="24.5" height="38" fill="#000" fill-opacity="0.08" filter="url(#b2)"/>
<rect x="195" y="811.4" width="21.5" height="3.2" rx="1.6" fill="#000" fill-opacity="0.38" filter="url(#b1)"/>
<rect x="226.5" y="792" width="25.5" height="38" fill="#000" fill-opacity="0.22" filter="url(#b2)"/>
<rect x="227.5" y="806.1" width="23.5" height="2.4" rx="1.2" fill="#000" fill-opacity="0.42" filter="url(#b1)"/>
<rect x="227" y="810.1" width="24.5" height="4.2" rx="2.1" fill="#000" fill-opacity="0.8" filter="url(#b1)"/>
<rect x="261.5" y="792" width="26.5" height="38" fill="#000" fill-opacity="0.07" filter="url(#b2)"/>
<rect x="263" y="809.5" width="23.5" height="3" rx="1.5" fill="#000" fill-opacity="0.35" filter="url(#b1)"/>
<rect x="294" y="792" width="24.5" height="38" fill="#000" fill-opacity="0.2" filter="url(#b2)"/>
<rect x="294.5" y="808.7" width="23.5" height="5.2" rx="2.6" fill="#000" fill-opacity="0.93" filter="url(#b1)"/>
<rect x="325.5" y="792" width="22.5" height="38" fill="#000" fill-opacity="0.05" filter="url(#b2)"/>
<rect x="326" y="810.9" width="17.5" height="2.8" rx="1.4" fill="#000" fill-opacity="0.22" filter="url(#b1)"/>
<rect x="341.8" y="824.4" width="1.6" height="1.6" rx="0.8" fill="#000" fill-opacity="0.8" filter="url(#b0)"/>
</g>
<rect x="52.6" y="794.5" width="309.6" height="33.5" fill="none" stroke="#111" stroke-width="1.55"/>
<rect x="52.6" y="836" width="309.6" height="35.9" fill="rgb(240,240,240)"/>
<g clip-path="url(#c42)">
<rect x="58.5" y="834" width="25.5" height="40" fill="#000" fill-opacity="0.05" filter="url(#b2)"/>
<rect x="60" y="850.5" width="22.5" height="4" rx="2" fill="#000" fill-opacity="0.78" filter="url(#b1)"/>
<rect x="60" y="856.8" width="22.5" height="2.4" rx="1.2" fill="#000" fill-opacity="0.12" filter="url(#b1)"/>
<rect x="90.5" y="834" width="27" height="40" fill="#000" fill-opacity="0.1" filter="url(#b2)"/>
<rect x="90.5" y="849.2" width="27" height="7.6" rx="3.8" fill="#000" fill-opacity="1" filter="url(#b1)"/>
<rect x="91.5" y="858" width="25" height="3" rx="1.5" fill="#000" fill-opacity="0.3" filter="url(#b1)"/>
<rect x="125.5" y="852.5" width="24" height="4" rx="2" fill="#000" fill-opacity="0.35" filter="url(#b1)"/>
<rect x="158.5" y="834" width="28" height="40" fill="#000" fill-opacity="0.08" filter="url(#b2)"/>
<rect x="158.5" y="849.4" width="28" height="6.2" rx="3.1" fill="#000" fill-opacity="1" filter="url(#b1)"/>
<rect x="159.5" y="858.4" width="26" height="2.4" rx="1.2" fill="#000" fill-opacity="0.55" filter="url(#b1)"/>
<rect x="195" y="851" width="21.5" height="4" rx="2" fill="#000" fill-opacity="0.72" filter="url(#b1)"/>
<rect x="195" y="857.8" width="21.5" height="2.4" rx="1.2" fill="#000" fill-opacity="0.12" filter="url(#b1)"/>
<rect x="228" y="851.1" width="22.5" height="3.8" rx="1.9" fill="#000" fill-opacity="0.78" filter="url(#b1)"/>
<rect x="228" y="858.3" width="22.5" height="2.4" rx="1.2" fill="#000" fill-opacity="0.18" filter="url(#b1)"/>
<rect x="261.5" y="834" width="26.5" height="40" fill="#000" fill-opacity="0.06" filter="url(#b2)"/>
<rect x="261" y="848.2" width="27.5" height="6.6" rx="3.3" fill="#000" fill-opacity="1" filter="url(#b1)"/>
<rect x="262" y="857.2" width="25.5" height="2.4" rx="1.2" fill="#000" fill-opacity="0.72" filter="url(#b1)"/>
<rect x="294" y="834" width="24.5" height="40" fill="#000" fill-opacity="0.06" filter="url(#b2)"/>
<rect x="294" y="849" width="24.5" height="6" rx="3" fill="#000" fill-opacity="1" filter="url(#b1)"/>
<rect x="295" y="856.4" width="22.5" height="2.4" rx="1.2" fill="#000" fill-opacity="0.4" filter="url(#b1)"/>
<rect x="325.5" y="851" width="18.5" height="6" rx="3" fill="#000" fill-opacity="1" filter="url(#b1)"/>
<rect x="331.5" y="852.5" width="14.5" height="3" rx="1.5" fill="#000" fill-opacity="0.7" filter="url(#b1)"/>
</g>
<rect x="52.6" y="836" width="309.6" height="35.9" fill="none" stroke="#111" stroke-width="1.55"/>
<text x="45" y="820.5" font-size="14.8" stroke="#000" stroke-width="0.22" text-anchor="end">PY99</text>
<text x="45" y="862.5" font-size="14.8" stroke="#000" stroke-width="0.22" text-anchor="end">AXL</text>
<line x1="57" y1="758.9" x2="117" y2="758.9" stroke="#000" stroke-width="1.8"/>
<line x1="127.5" y1="758.9" x2="153.7" y2="758.9" stroke="#000" stroke-width="1.8"/>
<line x1="162.5" y1="758.9" x2="359.3" y2="758.9" stroke="#000" stroke-width="1.8"/>
<text x="71.3" y="788" font-size="14" font-weight="bold" transform="rotate(-45 71.3 788)">p4</text>
<text x="104" y="788" font-size="14" font-weight="bold" transform="rotate(-45 104 788)">p15</text>
<text x="138" y="788" font-size="14" font-weight="bold" transform="rotate(-45 138 788)">p7</text>
<text x="170.5" y="788" font-size="14" font-weight="bold" transform="rotate(-45 170.5 788)">p2</text>
<text x="206" y="788" font-size="14" font-weight="bold" transform="rotate(-45 206 788)">p3</text>
<text x="239.5" y="788" font-size="14" font-weight="bold" transform="rotate(-45 239.5 788)">p8</text>
<text x="274" y="788" font-size="14" font-weight="bold" transform="rotate(-45 274 788)">p11</text>
<text x="307" y="788" font-size="14" font-weight="bold" transform="rotate(-45 307 788)">p12</text>
<text x="339" y="788" font-size="14" font-weight="bold" transform="rotate(-45 339 788)">p13</text>
<text x="85.5" y="757" font-size="14.5" font-weight="bold" transform="rotate(-33.6 85.5 757)">non-epithelial ovarian cancer</text>
<text x="144" y="757" font-size="14.6" font-weight="bold" transform="rotate(-33.6 144 757)">borderline mucinous cystadenoma</text>
<text x="258" y="757" font-size="14.6" font-weight="bold" transform="rotate(-33.6 258 757)">epithelial ovarian cancer</text>
<line x1="372.1" y1="796" x2="372.1" y2="870.7" stroke="#000" stroke-width="1.3"/>
<text x="380.7" y="810.5" font-size="15" stroke="#000" stroke-width="0.22" transform="rotate(90 380.7 810.5)" textLength="45" lengthAdjust="spacingAndGlyphs">AXL IP</text>
<path d="M397.8 810.7 L405.4 806.8 L405.4 814.6 Z" fill="#000"/>
<line x1="404.5" y1="810.7" x2="421.8" y2="810.7" stroke="#000" stroke-width="1.2"/>
<text x="422" y="814.9" font-size="13.1" stroke="#000" stroke-width="0.22" textLength="44.9" lengthAdjust="spacingAndGlyphs">140 kDa</text>
<path d="M397.8 852.7 L405.4 848.8 L405.4 856.6 Z" fill="#000"/>
<line x1="404.5" y1="852.7" x2="421.8" y2="852.7" stroke="#000" stroke-width="1.2"/>
<text x="422" y="856.9" font-size="13.1" stroke="#000" stroke-width="0.22" textLength="44.9" lengthAdjust="spacingAndGlyphs">140 kDa</text>
</svg>
</body></html>
